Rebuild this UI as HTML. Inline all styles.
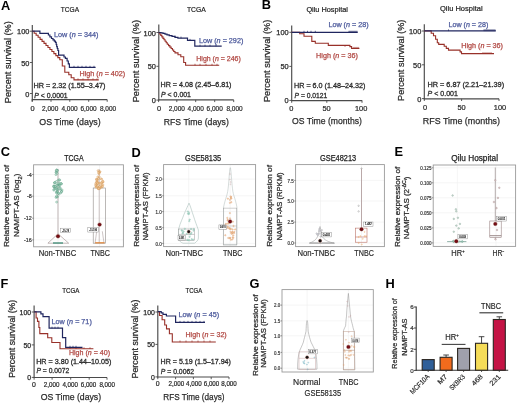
<!DOCTYPE html><html><head><meta charset="utf-8"><style>html,body{margin:0;padding:0;background:#fff;}svg{display:block;will-change:transform;}text{font-family:"Liberation Sans",sans-serif;}</style></head><body>
<svg width="520" height="403" viewBox="0 0 520 403">
<rect width="520" height="403" fill="#fff"/>
<text x="1.1" y="9.5" font-size="12.8" font-weight="bold" fill="#000">A</text>
<text x="261.8" y="9.4" font-size="12.8" font-weight="bold" fill="#000">B</text>
<text x="0.8" y="156.2" font-size="12.8" font-weight="bold" fill="#000">C</text>
<text x="131.5" y="156.7" font-size="12.8" font-weight="bold" fill="#000">D</text>
<text x="394.4" y="156.1" font-size="12.8" font-weight="bold" fill="#000">E</text>
<text x="0.5" y="287.7" font-size="12.8" font-weight="bold" fill="#000">F</text>
<text x="249.5" y="287.6" font-size="12.8" font-weight="bold" fill="#000">G</text>
<text x="385.5" y="287.7" font-size="12.8" font-weight="bold" fill="#000">H</text>
<line x1="32.30" y1="25.00" x2="32.30" y2="101.60" stroke="#4a4a4a" stroke-width="1.15"/>
<line x1="31.80" y1="99.60" x2="107.20" y2="99.60" stroke="#4a4a4a" stroke-width="1.15"/>
<line x1="29.90" y1="31.20" x2="32.30" y2="31.20" stroke="#4a4a4a" stroke-width="0.9"/>
<text x="29.40" y="34.25" font-size="7.4" text-anchor="end" fill="#2a2a2a" stroke="#2a2a2a" stroke-width="0.25">100</text>
<line x1="29.90" y1="62.50" x2="32.30" y2="62.50" stroke="#4a4a4a" stroke-width="0.9"/>
<text x="29.40" y="65.55" font-size="7.4" text-anchor="end" fill="#2a2a2a" stroke="#2a2a2a" stroke-width="0.25">50</text>
<line x1="29.90" y1="93.50" x2="32.30" y2="93.50" stroke="#4a4a4a" stroke-width="0.9"/>
<text x="29.40" y="96.55" font-size="7.4" text-anchor="end" fill="#2a2a2a" stroke="#2a2a2a" stroke-width="0.25">0</text>
<line x1="32.20" y1="99.60" x2="32.20" y2="101.80" stroke="#4a4a4a" stroke-width="0.9"/>
<line x1="51.00" y1="99.60" x2="51.00" y2="101.80" stroke="#4a4a4a" stroke-width="0.9"/>
<line x1="69.80" y1="99.60" x2="69.80" y2="101.80" stroke="#4a4a4a" stroke-width="0.9"/>
<line x1="88.70" y1="99.60" x2="88.70" y2="101.80" stroke="#4a4a4a" stroke-width="0.9"/>
<line x1="107.20" y1="99.60" x2="107.20" y2="101.80" stroke="#4a4a4a" stroke-width="0.9"/>
<text x="32.60" y="111.30" font-size="7.4" text-anchor="middle" fill="#2a2a2a" stroke="#2a2a2a" stroke-width="0.22">0</text>
<text x="50.20" y="111.30" font-size="7.4" text-anchor="middle" fill="#2a2a2a" textLength="16.20" lengthAdjust="spacingAndGlyphs" stroke="#2a2a2a" stroke-width="0.22">2,000</text>
<text x="69.50" y="111.30" font-size="7.4" text-anchor="middle" fill="#2a2a2a" textLength="16.20" lengthAdjust="spacingAndGlyphs" stroke="#2a2a2a" stroke-width="0.22">4,000</text>
<text x="88.50" y="111.30" font-size="7.4" text-anchor="middle" fill="#2a2a2a" textLength="16.20" lengthAdjust="spacingAndGlyphs" stroke="#2a2a2a" stroke-width="0.22">6,000</text>
<text x="108.00" y="111.30" font-size="7.4" text-anchor="middle" fill="#2a2a2a" textLength="16.20" lengthAdjust="spacingAndGlyphs" stroke="#2a2a2a" stroke-width="0.22">8,000</text>
<text x="69.90" y="11.90" font-size="7.4" text-anchor="middle" fill="#222" textLength="18.20" lengthAdjust="spacingAndGlyphs" stroke="#222" stroke-width="0.2">TCGA</text>
<text x="70.00" y="125.17" font-size="9.8" text-anchor="middle" fill="#2a2a2a" textLength="61.50" lengthAdjust="spacingAndGlyphs" stroke="#2a2a2a" stroke-width="0.25">OS Time (days)</text>
<text x="10.88" y="62.20" font-size="9.0" text-anchor="middle" fill="#2a2a2a" textLength="82.00" lengthAdjust="spacingAndGlyphs" stroke="#2a2a2a" stroke-width="0.25" transform="rotate(-90 10.88 62.20)">Percent survival (%)</text>
<polyline points="32.20,31.20 34.17,31.20 34.17,33.24 36.14,33.24 36.14,35.27 38.11,35.27 38.11,37.31 40.09,37.31 40.09,39.34 42.06,39.34 42.06,41.38 44.03,41.38 44.03,43.41 46.00,43.41 46.00,45.45 47.97,45.45 47.97,47.49 49.94,47.49 49.94,49.52 51.91,49.52 51.91,51.56 53.89,51.56 53.89,53.59 55.86,53.59 55.86,55.63 57.83,55.63 57.83,57.66 59.80,57.66 59.80,59.70 62.30,59.70 62.30,66.00 64.80,66.00 64.80,72.30 68.80,72.30 68.80,74.80 71.20,74.80 71.20,77.70 74.00,77.70 74.00,79.90 98.80,79.90" stroke="#983029" stroke-width="1.1" fill="none"/>
<line x1="78.00" y1="78.40" x2="78.00" y2="80.10" stroke="#983029" stroke-width="0.7"/>
<line x1="83.00" y1="78.40" x2="83.00" y2="80.10" stroke="#983029" stroke-width="0.7"/>
<line x1="88.00" y1="78.40" x2="88.00" y2="80.10" stroke="#983029" stroke-width="0.7"/>
<line x1="93.00" y1="78.40" x2="93.00" y2="80.10" stroke="#983029" stroke-width="0.7"/>
<line x1="97.00" y1="78.40" x2="97.00" y2="80.10" stroke="#983029" stroke-width="0.7"/>
<polyline points="32.20,31.20 39.90,31.20 39.90,33.40 48.40,33.40 48.40,35.00 49.90,35.00 49.90,36.80 51.50,36.80 51.50,38.50 53.00,38.50 53.00,39.90 54.30,39.90 54.30,41.20 55.40,41.20 55.40,42.40 56.20,42.40 56.20,44.50 56.70,44.50 56.70,46.70 57.30,46.70 57.30,48.50 57.90,48.50 57.90,50.50 58.60,50.50 58.60,55.20 64.00,55.20 64.00,57.00 65.40,57.00 65.40,58.30 67.10,58.30 67.10,61.00 68.30,61.00 68.30,63.80 69.40,63.80 69.40,67.30 95.60,67.30" stroke="#20265f" stroke-width="1.2" fill="none"/>
<line x1="74.00" y1="65.80" x2="74.00" y2="67.50" stroke="#20265f" stroke-width="0.7"/>
<line x1="78.00" y1="65.80" x2="78.00" y2="67.50" stroke="#20265f" stroke-width="0.7"/>
<line x1="82.00" y1="65.80" x2="82.00" y2="67.50" stroke="#20265f" stroke-width="0.7"/>
<line x1="86.00" y1="65.80" x2="86.00" y2="67.50" stroke="#20265f" stroke-width="0.7"/>
<line x1="90.00" y1="65.80" x2="90.00" y2="67.50" stroke="#20265f" stroke-width="0.7"/>
<line x1="94.00" y1="65.80" x2="94.00" y2="67.50" stroke="#20265f" stroke-width="0.7"/>
<text x="54.00" y="37.22" font-size="7.2" fill="#4d5a9c" stroke="#4d5a9c" stroke-width="0.25" textLength="44.5" lengthAdjust="spacingAndGlyphs">Low (<tspan font-style="italic">n</tspan> = 344)</text>
<text x="79.50" y="76.32" font-size="7.2" fill="#b24a45" stroke="#b24a45" stroke-width="0.25" textLength="45.7" lengthAdjust="spacingAndGlyphs">High (<tspan font-style="italic">n</tspan> = 402)</text>
<text x="33.40" y="88.42" font-size="7.2" fill="#2a2a2a" stroke="#2a2a2a" stroke-width="0.28" textLength="72" lengthAdjust="spacingAndGlyphs">HR = 2.32 (1.55–3.47)</text>
<text x="34.20" y="97.82" font-size="7.2" fill="#2a2a2a" stroke="#2a2a2a" stroke-width="0.28" textLength="33.5" lengthAdjust="spacingAndGlyphs"><tspan font-style="italic">P</tspan> &lt; 0.0001</text>
<line x1="158.80" y1="24.50" x2="158.80" y2="100.40" stroke="#4a4a4a" stroke-width="1.15"/>
<line x1="158.30" y1="99.90" x2="233.70" y2="99.90" stroke="#4a4a4a" stroke-width="1.15"/>
<line x1="156.40" y1="32.50" x2="158.80" y2="32.50" stroke="#4a4a4a" stroke-width="0.9"/>
<text x="155.90" y="35.55" font-size="7.4" text-anchor="end" fill="#2a2a2a" stroke="#2a2a2a" stroke-width="0.25">100</text>
<line x1="156.40" y1="66.30" x2="158.80" y2="66.30" stroke="#4a4a4a" stroke-width="0.9"/>
<text x="155.90" y="69.35" font-size="7.4" text-anchor="end" fill="#2a2a2a" stroke="#2a2a2a" stroke-width="0.25">50</text>
<line x1="156.40" y1="100.10" x2="158.80" y2="100.10" stroke="#4a4a4a" stroke-width="0.9"/>
<text x="155.90" y="103.15" font-size="7.4" text-anchor="end" fill="#2a2a2a" stroke="#2a2a2a" stroke-width="0.25">0</text>
<line x1="158.60" y1="99.90" x2="158.60" y2="102.10" stroke="#4a4a4a" stroke-width="0.9"/>
<line x1="176.80" y1="99.90" x2="176.80" y2="102.10" stroke="#4a4a4a" stroke-width="0.9"/>
<line x1="195.70" y1="99.90" x2="195.70" y2="102.10" stroke="#4a4a4a" stroke-width="0.9"/>
<line x1="214.70" y1="99.90" x2="214.70" y2="102.10" stroke="#4a4a4a" stroke-width="0.9"/>
<line x1="233.70" y1="99.90" x2="233.70" y2="102.10" stroke="#4a4a4a" stroke-width="0.9"/>
<text x="159.00" y="111.30" font-size="7.4" text-anchor="middle" fill="#2a2a2a" stroke="#2a2a2a" stroke-width="0.22">0</text>
<text x="176.80" y="111.30" font-size="7.4" text-anchor="middle" fill="#2a2a2a" textLength="16.20" lengthAdjust="spacingAndGlyphs" stroke="#2a2a2a" stroke-width="0.22">2,000</text>
<text x="195.70" y="111.30" font-size="7.4" text-anchor="middle" fill="#2a2a2a" textLength="16.20" lengthAdjust="spacingAndGlyphs" stroke="#2a2a2a" stroke-width="0.22">4,000</text>
<text x="214.70" y="111.30" font-size="7.4" text-anchor="middle" fill="#2a2a2a" textLength="16.20" lengthAdjust="spacingAndGlyphs" stroke="#2a2a2a" stroke-width="0.22">6,000</text>
<text x="234.50" y="111.30" font-size="7.4" text-anchor="middle" fill="#2a2a2a" textLength="16.20" lengthAdjust="spacingAndGlyphs" stroke="#2a2a2a" stroke-width="0.22">8,000</text>
<text x="196.30" y="11.90" font-size="7.4" text-anchor="middle" fill="#222" textLength="18.80" lengthAdjust="spacingAndGlyphs" stroke="#222" stroke-width="0.2">TCGA</text>
<text x="196.30" y="124.97" font-size="9.8" text-anchor="middle" fill="#2a2a2a" textLength="65.00" lengthAdjust="spacingAndGlyphs" stroke="#2a2a2a" stroke-width="0.25">RFS Time (days)</text>
<text x="138.68" y="61.10" font-size="9.0" text-anchor="middle" fill="#2a2a2a" textLength="82.50" lengthAdjust="spacingAndGlyphs" stroke="#2a2a2a" stroke-width="0.25" transform="rotate(-90 138.68 61.10)">Percent survival (%)</text>
<polyline points="158.60,32.50 159.69,32.50 159.69,33.96 160.78,33.96 160.78,35.42 161.86,35.42 161.86,36.89 162.95,36.89 162.95,38.35 164.04,38.35 164.04,39.81 165.12,39.81 165.12,41.28 166.21,41.28 166.21,42.74 167.30,42.74 167.30,44.20 168.58,44.20 168.58,45.65 169.87,45.65 169.87,47.10 171.15,47.10 171.15,48.55 172.43,48.55 172.43,50.00 173.72,50.00 173.72,51.45 175.00,51.45 175.00,52.90 178.00,52.90 178.00,54.80 180.80,54.80 180.80,56.70 183.70,56.70 183.70,62.50 185.60,62.50 185.60,65.30 219.20,65.30" stroke="#983029" stroke-width="1.1" fill="none"/>
<line x1="195.00" y1="63.80" x2="195.00" y2="65.50" stroke="#983029" stroke-width="0.7"/>
<line x1="200.00" y1="63.80" x2="200.00" y2="65.50" stroke="#983029" stroke-width="0.7"/>
<line x1="206.00" y1="63.80" x2="206.00" y2="65.50" stroke="#983029" stroke-width="0.7"/>
<line x1="212.00" y1="63.80" x2="212.00" y2="65.50" stroke="#983029" stroke-width="0.7"/>
<line x1="217.00" y1="63.80" x2="217.00" y2="65.50" stroke="#983029" stroke-width="0.7"/>
<polyline points="158.60,32.50 161.00,32.50 161.00,32.80 163.00,32.80 163.00,33.30 165.00,33.30 165.00,34.20 167.00,34.20 167.00,34.80 169.20,34.80 169.20,35.60 172.00,35.60 172.00,36.40 175.00,36.40 175.00,37.30 177.90,37.30 177.90,38.10 187.50,38.10 187.50,40.40 194.80,40.40 194.80,46.20 221.70,46.20" stroke="#20265f" stroke-width="1.2" fill="none"/>
<line x1="200.00" y1="44.70" x2="200.00" y2="46.40" stroke="#20265f" stroke-width="0.7"/>
<line x1="205.00" y1="44.70" x2="205.00" y2="46.40" stroke="#20265f" stroke-width="0.7"/>
<line x1="210.00" y1="44.70" x2="210.00" y2="46.40" stroke="#20265f" stroke-width="0.7"/>
<line x1="216.00" y1="44.70" x2="216.00" y2="46.40" stroke="#20265f" stroke-width="0.7"/>
<line x1="175.00" y1="35.80" x2="175.00" y2="37.50" stroke="#20265f" stroke-width="0.7"/>
<line x1="181.00" y1="36.60" x2="181.00" y2="38.30" stroke="#20265f" stroke-width="0.7"/>
<line x1="190.00" y1="38.90" x2="190.00" y2="40.60" stroke="#20265f" stroke-width="0.7"/>
<text x="199.00" y="43.12" font-size="7.2" fill="#4d5a9c" stroke="#4d5a9c" stroke-width="0.25" textLength="44.3" lengthAdjust="spacingAndGlyphs">Low (<tspan font-style="italic">n</tspan> = 292)</text>
<text x="196.30" y="61.12" font-size="7.2" fill="#b24a45" stroke="#b24a45" stroke-width="0.25" textLength="44.5" lengthAdjust="spacingAndGlyphs">High (<tspan font-style="italic">n</tspan> = 246)</text>
<text x="160.50" y="87.32" font-size="7.2" fill="#2a2a2a" stroke="#2a2a2a" stroke-width="0.28" textLength="71" lengthAdjust="spacingAndGlyphs">HR = 4.08 (2.45–6.81)</text>
<text x="161.00" y="96.72" font-size="7.2" fill="#2a2a2a" stroke="#2a2a2a" stroke-width="0.28" textLength="30" lengthAdjust="spacingAndGlyphs"><tspan font-style="italic">P</tspan> &lt; 0.001</text>
<line x1="291.70" y1="25.50" x2="291.70" y2="101.10" stroke="#4a4a4a" stroke-width="1.15"/>
<line x1="291.20" y1="100.60" x2="362.20" y2="100.60" stroke="#4a4a4a" stroke-width="1.15"/>
<line x1="289.30" y1="32.30" x2="291.70" y2="32.30" stroke="#4a4a4a" stroke-width="0.9"/>
<text x="288.70" y="35.35" font-size="7.4" text-anchor="end" fill="#2a2a2a" stroke="#2a2a2a" stroke-width="0.25">100</text>
<line x1="289.30" y1="66.40" x2="291.70" y2="66.40" stroke="#4a4a4a" stroke-width="0.9"/>
<text x="288.70" y="69.45" font-size="7.4" text-anchor="end" fill="#2a2a2a" stroke="#2a2a2a" stroke-width="0.25">50</text>
<line x1="289.30" y1="100.40" x2="291.70" y2="100.40" stroke="#4a4a4a" stroke-width="0.9"/>
<text x="288.70" y="103.45" font-size="7.4" text-anchor="end" fill="#2a2a2a" stroke="#2a2a2a" stroke-width="0.25">0</text>
<line x1="291.70" y1="100.60" x2="291.70" y2="102.80" stroke="#4a4a4a" stroke-width="0.9"/>
<line x1="326.80" y1="100.60" x2="326.80" y2="102.80" stroke="#4a4a4a" stroke-width="0.9"/>
<line x1="362.00" y1="100.60" x2="362.00" y2="102.80" stroke="#4a4a4a" stroke-width="0.9"/>
<text x="291.30" y="111.20" font-size="7.4" text-anchor="middle" fill="#2a2a2a" stroke="#2a2a2a" stroke-width="0.22">0</text>
<text x="326.50" y="111.20" font-size="7.4" text-anchor="middle" fill="#2a2a2a" stroke="#2a2a2a" stroke-width="0.22">50</text>
<text x="361.10" y="111.20" font-size="7.4" text-anchor="middle" fill="#2a2a2a" stroke="#2a2a2a" stroke-width="0.22">100</text>
<text x="327.20" y="12.00" font-size="7.4" text-anchor="middle" fill="#222" textLength="41.60" lengthAdjust="spacingAndGlyphs" stroke="#222" stroke-width="0.2">Qilu Hospital</text>
<text x="327.00" y="124.37" font-size="9.8" text-anchor="middle" fill="#2a2a2a" textLength="70.00" lengthAdjust="spacingAndGlyphs" stroke="#2a2a2a" stroke-width="0.25">OS Time (months)</text>
<text x="269.68" y="60.90" font-size="9.0" text-anchor="middle" fill="#2a2a2a" textLength="82.30" lengthAdjust="spacingAndGlyphs" stroke="#2a2a2a" stroke-width="0.25" transform="rotate(-90 269.68 60.90)">Percent survival (%)</text>
<polyline points="291.70,32.30 299.70,32.30 299.70,33.70 304.00,33.70 304.00,36.20 311.80,36.20 311.80,41.40 315.30,41.40 315.30,43.20 328.30,43.20 328.30,45.40 349.90,45.40 349.90,46.60 351.60,46.60 351.60,48.40 359.40,48.40" stroke="#983029" stroke-width="1.1" fill="none"/>
<line x1="345.00" y1="45.10" x2="345.00" y2="46.80" stroke="#983029" stroke-width="0.7"/>
<line x1="354.00" y1="46.90" x2="354.00" y2="48.60" stroke="#983029" stroke-width="0.7"/>
<line x1="356.00" y1="46.90" x2="356.00" y2="48.60" stroke="#983029" stroke-width="0.7"/>
<line x1="358.00" y1="46.90" x2="358.00" y2="48.60" stroke="#983029" stroke-width="0.7"/>
<polyline points="291.70,32.30 357.70,32.30" stroke="#20265f" stroke-width="1.2" fill="none"/>
<line x1="304.00" y1="30.80" x2="304.00" y2="32.50" stroke="#20265f" stroke-width="0.7"/>
<line x1="307.50" y1="30.80" x2="307.50" y2="32.50" stroke="#20265f" stroke-width="0.7"/>
<line x1="311.00" y1="30.80" x2="311.00" y2="32.50" stroke="#20265f" stroke-width="0.7"/>
<line x1="315.30" y1="30.80" x2="315.30" y2="32.50" stroke="#20265f" stroke-width="0.7"/>
<line x1="349.00" y1="30.80" x2="349.00" y2="32.50" stroke="#20265f" stroke-width="0.7"/>
<line x1="350.00" y1="30.80" x2="350.00" y2="32.50" stroke="#20265f" stroke-width="0.7"/>
<line x1="351.00" y1="30.80" x2="351.00" y2="32.50" stroke="#20265f" stroke-width="0.7"/>
<line x1="352.00" y1="30.80" x2="352.00" y2="32.50" stroke="#20265f" stroke-width="0.7"/>
<line x1="353.00" y1="30.80" x2="353.00" y2="32.50" stroke="#20265f" stroke-width="0.7"/>
<line x1="354.00" y1="30.80" x2="354.00" y2="32.50" stroke="#20265f" stroke-width="0.7"/>
<line x1="355.00" y1="30.80" x2="355.00" y2="32.50" stroke="#20265f" stroke-width="0.7"/>
<line x1="356.00" y1="30.80" x2="356.00" y2="32.50" stroke="#20265f" stroke-width="0.7"/>
<line x1="357.00" y1="30.80" x2="357.00" y2="32.50" stroke="#20265f" stroke-width="0.7"/>
<text x="328.40" y="27.12" font-size="7.2" fill="#4d5a9c" stroke="#4d5a9c" stroke-width="0.25" textLength="40.3" lengthAdjust="spacingAndGlyphs">Low (<tspan font-style="italic">n</tspan> = 28)</text>
<text x="316.10" y="58.32" font-size="7.2" fill="#b24a45" stroke="#b24a45" stroke-width="0.25" textLength="41.9" lengthAdjust="spacingAndGlyphs">High (<tspan font-style="italic">n</tspan> = 36)</text>
<text x="294.00" y="88.42" font-size="7.2" fill="#2a2a2a" stroke="#2a2a2a" stroke-width="0.28" textLength="71.4" lengthAdjust="spacingAndGlyphs">HR = 6.0 (1.48–24.32)</text>
<text x="294.50" y="97.52" font-size="7.2" fill="#2a2a2a" stroke="#2a2a2a" stroke-width="0.28" textLength="32.9" lengthAdjust="spacingAndGlyphs"><tspan font-style="italic">P</tspan> = 0.0121</text>
<line x1="424.30" y1="24.20" x2="424.30" y2="99.30" stroke="#4a4a4a" stroke-width="1.15"/>
<line x1="423.80" y1="98.80" x2="499.00" y2="98.80" stroke="#4a4a4a" stroke-width="1.15"/>
<line x1="421.90" y1="31.00" x2="424.30" y2="31.00" stroke="#4a4a4a" stroke-width="0.9"/>
<text x="421.30" y="34.05" font-size="7.4" text-anchor="end" fill="#2a2a2a" stroke="#2a2a2a" stroke-width="0.25">100</text>
<line x1="421.90" y1="64.80" x2="424.30" y2="64.80" stroke="#4a4a4a" stroke-width="0.9"/>
<text x="421.30" y="67.85" font-size="7.4" text-anchor="end" fill="#2a2a2a" stroke="#2a2a2a" stroke-width="0.25">50</text>
<line x1="421.90" y1="98.60" x2="424.30" y2="98.60" stroke="#4a4a4a" stroke-width="0.9"/>
<text x="421.30" y="101.65" font-size="7.4" text-anchor="end" fill="#2a2a2a" stroke="#2a2a2a" stroke-width="0.25">0</text>
<line x1="424.30" y1="98.80" x2="424.30" y2="101.00" stroke="#4a4a4a" stroke-width="0.9"/>
<line x1="461.60" y1="98.80" x2="461.60" y2="101.00" stroke="#4a4a4a" stroke-width="0.9"/>
<line x1="499.00" y1="98.80" x2="499.00" y2="101.00" stroke="#4a4a4a" stroke-width="0.9"/>
<text x="425.00" y="110.30" font-size="7.4" text-anchor="middle" fill="#2a2a2a" stroke="#2a2a2a" stroke-width="0.22">0</text>
<text x="461.60" y="110.30" font-size="7.4" text-anchor="middle" fill="#2a2a2a" stroke="#2a2a2a" stroke-width="0.22">50</text>
<text x="500.00" y="110.30" font-size="7.4" text-anchor="middle" fill="#2a2a2a" stroke="#2a2a2a" stroke-width="0.22">100</text>
<text x="461.30" y="11.10" font-size="7.4" text-anchor="middle" fill="#222" textLength="42.70" lengthAdjust="spacingAndGlyphs" stroke="#222" stroke-width="0.2">Qilu Hospital</text>
<text x="461.40" y="123.57" font-size="9.8" text-anchor="middle" fill="#2a2a2a" textLength="77.30" lengthAdjust="spacingAndGlyphs" stroke="#2a2a2a" stroke-width="0.25">RFS Time (months)</text>
<text x="403.58" y="60.30" font-size="9.0" text-anchor="middle" fill="#2a2a2a" textLength="81.20" lengthAdjust="spacingAndGlyphs" stroke="#2a2a2a" stroke-width="0.25" transform="rotate(-90 403.58 60.30)">Percent survival (%)</text>
<polyline points="424.30,30.90 431.20,30.90 431.20,33.20 433.50,33.20 433.50,35.80 435.60,35.80 435.60,39.20 437.30,39.20 437.30,42.70 438.70,42.70 438.70,44.40 444.20,44.40 444.20,46.20 446.30,46.20 446.30,48.40 448.50,48.40 448.50,50.10 460.10,50.10 460.10,51.90 461.50,51.90 461.50,53.60 494.00,53.60" stroke="#983029" stroke-width="1.1" fill="none"/>
<line x1="483.00" y1="52.10" x2="483.00" y2="53.80" stroke="#983029" stroke-width="0.7"/>
<line x1="485.00" y1="52.10" x2="485.00" y2="53.80" stroke="#983029" stroke-width="0.7"/>
<line x1="487.00" y1="52.10" x2="487.00" y2="53.80" stroke="#983029" stroke-width="0.7"/>
<line x1="489.00" y1="52.10" x2="489.00" y2="53.80" stroke="#983029" stroke-width="0.7"/>
<line x1="491.00" y1="52.10" x2="491.00" y2="53.80" stroke="#983029" stroke-width="0.7"/>
<polyline points="424.30,30.90 495.80,30.90" stroke="#20265f" stroke-width="1.2" fill="none"/>
<line x1="448.50" y1="29.40" x2="448.50" y2="31.10" stroke="#20265f" stroke-width="0.7"/>
<line x1="484.00" y1="29.40" x2="484.00" y2="31.10" stroke="#20265f" stroke-width="0.7"/>
<line x1="485.00" y1="29.40" x2="485.00" y2="31.10" stroke="#20265f" stroke-width="0.7"/>
<line x1="486.00" y1="29.40" x2="486.00" y2="31.10" stroke="#20265f" stroke-width="0.7"/>
<line x1="487.00" y1="29.40" x2="487.00" y2="31.10" stroke="#20265f" stroke-width="0.7"/>
<line x1="488.00" y1="29.40" x2="488.00" y2="31.10" stroke="#20265f" stroke-width="0.7"/>
<line x1="489.00" y1="29.40" x2="489.00" y2="31.10" stroke="#20265f" stroke-width="0.7"/>
<line x1="490.00" y1="29.40" x2="490.00" y2="31.10" stroke="#20265f" stroke-width="0.7"/>
<line x1="491.00" y1="29.40" x2="491.00" y2="31.10" stroke="#20265f" stroke-width="0.7"/>
<line x1="492.00" y1="29.40" x2="492.00" y2="31.10" stroke="#20265f" stroke-width="0.7"/>
<line x1="493.00" y1="29.40" x2="493.00" y2="31.10" stroke="#20265f" stroke-width="0.7"/>
<line x1="494.00" y1="29.40" x2="494.00" y2="31.10" stroke="#20265f" stroke-width="0.7"/>
<line x1="495.00" y1="29.40" x2="495.00" y2="31.10" stroke="#20265f" stroke-width="0.7"/>
<text x="448.50" y="26.62" font-size="7.2" fill="#4d5a9c" stroke="#4d5a9c" stroke-width="0.25" textLength="39.8" lengthAdjust="spacingAndGlyphs">Low (<tspan font-style="italic">n</tspan> = 28)</text>
<text x="461.20" y="47.82" font-size="7.2" fill="#b24a45" stroke="#b24a45" stroke-width="0.25" textLength="41.8" lengthAdjust="spacingAndGlyphs">High (<tspan font-style="italic">n</tspan> = 36)</text>
<text x="427.40" y="86.62" font-size="7.2" fill="#2a2a2a" stroke="#2a2a2a" stroke-width="0.28" textLength="76.7" lengthAdjust="spacingAndGlyphs">HR = 6.87 (2.21–21.39)</text>
<text x="427.60" y="95.62" font-size="7.2" fill="#2a2a2a" stroke="#2a2a2a" stroke-width="0.28" textLength="30.3" lengthAdjust="spacingAndGlyphs"><tspan font-style="italic">P</tspan> &lt; 0.001</text>
<line x1="34.10" y1="305.50" x2="34.10" y2="378.00" stroke="#4a4a4a" stroke-width="1.15"/>
<line x1="33.60" y1="377.50" x2="107.00" y2="377.50" stroke="#4a4a4a" stroke-width="1.15"/>
<line x1="31.70" y1="312.00" x2="34.10" y2="312.00" stroke="#4a4a4a" stroke-width="0.9"/>
<text x="31.10" y="314.87" font-size="6.9" text-anchor="end" fill="#2a2a2a" stroke="#2a2a2a" stroke-width="0.25">100</text>
<line x1="31.70" y1="344.90" x2="34.10" y2="344.90" stroke="#4a4a4a" stroke-width="0.9"/>
<text x="31.10" y="347.77" font-size="6.9" text-anchor="end" fill="#2a2a2a" stroke="#2a2a2a" stroke-width="0.25">50</text>
<line x1="31.70" y1="377.40" x2="34.10" y2="377.40" stroke="#4a4a4a" stroke-width="0.9"/>
<text x="31.10" y="380.27" font-size="6.9" text-anchor="end" fill="#2a2a2a" stroke="#2a2a2a" stroke-width="0.25">0</text>
<line x1="34.10" y1="377.50" x2="34.10" y2="379.70" stroke="#4a4a4a" stroke-width="0.9"/>
<line x1="52.10" y1="377.50" x2="52.10" y2="379.70" stroke="#4a4a4a" stroke-width="0.9"/>
<line x1="70.70" y1="377.50" x2="70.70" y2="379.70" stroke="#4a4a4a" stroke-width="0.9"/>
<line x1="89.20" y1="377.50" x2="89.20" y2="379.70" stroke="#4a4a4a" stroke-width="0.9"/>
<line x1="107.00" y1="377.50" x2="107.00" y2="379.70" stroke="#4a4a4a" stroke-width="0.9"/>
<text x="33.80" y="386.92" font-size="6.9" text-anchor="middle" fill="#2a2a2a" stroke="#2a2a2a" stroke-width="0.22">0</text>
<text x="51.60" y="386.92" font-size="6.9" text-anchor="middle" fill="#2a2a2a" textLength="15.60" lengthAdjust="spacingAndGlyphs" stroke="#2a2a2a" stroke-width="0.22">2,000</text>
<text x="70.20" y="386.92" font-size="6.9" text-anchor="middle" fill="#2a2a2a" textLength="15.60" lengthAdjust="spacingAndGlyphs" stroke="#2a2a2a" stroke-width="0.22">4,000</text>
<text x="88.50" y="386.92" font-size="6.9" text-anchor="middle" fill="#2a2a2a" textLength="15.60" lengthAdjust="spacingAndGlyphs" stroke="#2a2a2a" stroke-width="0.22">6,000</text>
<text x="107.20" y="386.92" font-size="6.9" text-anchor="middle" fill="#2a2a2a" textLength="15.60" lengthAdjust="spacingAndGlyphs" stroke="#2a2a2a" stroke-width="0.22">8,000</text>
<text x="70.90" y="293.00" font-size="7.4" text-anchor="middle" fill="#222" textLength="17.20" lengthAdjust="spacingAndGlyphs" stroke="#222" stroke-width="0.2">TCGA</text>
<text x="70.90" y="400.37" font-size="9.8" text-anchor="middle" fill="#2a2a2a" textLength="60.50" lengthAdjust="spacingAndGlyphs" stroke="#2a2a2a" stroke-width="0.25">OS Time (days)</text>
<text x="15.38" y="338.80" font-size="9.0" text-anchor="middle" fill="#2a2a2a" textLength="78.00" lengthAdjust="spacingAndGlyphs" stroke="#2a2a2a" stroke-width="0.25" transform="rotate(-90 15.38 338.80)">Percent survival (%)</text>
<polyline points="34.10,311.80 36.10,311.80 36.10,318.00 37.50,318.00 37.50,321.40 38.90,321.40 38.90,327.50 39.80,327.50 39.80,333.60 47.70,333.60 47.70,337.70 51.80,337.70 51.80,342.50 60.00,342.50 60.00,348.80 93.40,348.80" stroke="#983029" stroke-width="1.1" fill="none"/>
<line x1="70.00" y1="347.30" x2="70.00" y2="349.00" stroke="#983029" stroke-width="0.7"/>
<line x1="76.00" y1="347.30" x2="76.00" y2="349.00" stroke="#983029" stroke-width="0.7"/>
<line x1="84.00" y1="347.30" x2="84.00" y2="349.00" stroke="#983029" stroke-width="0.7"/>
<line x1="90.00" y1="347.30" x2="90.00" y2="349.00" stroke="#983029" stroke-width="0.7"/>
<polyline points="34.10,311.80 40.90,311.80 40.90,313.90 43.00,313.90 43.00,316.60 49.10,316.60 49.10,328.20 62.50,328.20 62.50,337.70 65.70,337.70 65.70,347.30 82.50,347.30" stroke="#20265f" stroke-width="1.2" fill="none"/>
<line x1="52.00" y1="326.70" x2="52.00" y2="328.40" stroke="#20265f" stroke-width="0.7"/>
<line x1="55.00" y1="326.70" x2="55.00" y2="328.40" stroke="#20265f" stroke-width="0.7"/>
<line x1="58.00" y1="326.70" x2="58.00" y2="328.40" stroke="#20265f" stroke-width="0.7"/>
<line x1="70.00" y1="345.80" x2="70.00" y2="347.50" stroke="#20265f" stroke-width="0.7"/>
<line x1="73.00" y1="345.80" x2="73.00" y2="347.50" stroke="#20265f" stroke-width="0.7"/>
<line x1="76.00" y1="345.80" x2="76.00" y2="347.50" stroke="#20265f" stroke-width="0.7"/>
<text x="51.50" y="324.12" font-size="7.2" fill="#4d5a9c" stroke="#4d5a9c" stroke-width="0.25" textLength="40.3" lengthAdjust="spacingAndGlyphs">Low (<tspan font-style="italic">n</tspan> = 71)</text>
<text x="68.90" y="355.12" font-size="7.2" fill="#b24a45" stroke="#b24a45" stroke-width="0.25" textLength="41.2" lengthAdjust="spacingAndGlyphs">High (<tspan font-style="italic">n</tspan> = 40)</text>
<text x="36.20" y="363.92" font-size="7.2" fill="#2a2a2a" stroke="#2a2a2a" stroke-width="0.28" textLength="75.2" lengthAdjust="spacingAndGlyphs">HR = 3.80 (1.44–10.05)</text>
<text x="36.50" y="373.32" font-size="7.2" fill="#2a2a2a" stroke="#2a2a2a" stroke-width="0.28" textLength="32.7" lengthAdjust="spacingAndGlyphs"><tspan font-style="italic">P</tspan> = 0.0072</text>
<line x1="157.80" y1="305.60" x2="157.80" y2="377.50" stroke="#4a4a4a" stroke-width="1.15"/>
<line x1="157.30" y1="377.00" x2="229.00" y2="377.00" stroke="#4a4a4a" stroke-width="1.15"/>
<line x1="155.40" y1="312.00" x2="157.80" y2="312.00" stroke="#4a4a4a" stroke-width="0.9"/>
<text x="154.80" y="314.87" font-size="6.9" text-anchor="end" fill="#2a2a2a" stroke="#2a2a2a" stroke-width="0.25">100</text>
<line x1="155.40" y1="344.40" x2="157.80" y2="344.40" stroke="#4a4a4a" stroke-width="0.9"/>
<text x="154.80" y="347.27" font-size="6.9" text-anchor="end" fill="#2a2a2a" stroke="#2a2a2a" stroke-width="0.25">50</text>
<line x1="155.40" y1="376.90" x2="157.80" y2="376.90" stroke="#4a4a4a" stroke-width="0.9"/>
<text x="154.80" y="379.77" font-size="6.9" text-anchor="end" fill="#2a2a2a" stroke="#2a2a2a" stroke-width="0.25">0</text>
<line x1="157.80" y1="377.00" x2="157.80" y2="379.20" stroke="#4a4a4a" stroke-width="0.9"/>
<line x1="175.60" y1="377.00" x2="175.60" y2="379.20" stroke="#4a4a4a" stroke-width="0.9"/>
<line x1="193.40" y1="377.00" x2="193.40" y2="379.20" stroke="#4a4a4a" stroke-width="0.9"/>
<line x1="211.20" y1="377.00" x2="211.20" y2="379.20" stroke="#4a4a4a" stroke-width="0.9"/>
<line x1="229.00" y1="377.00" x2="229.00" y2="379.20" stroke="#4a4a4a" stroke-width="0.9"/>
<text x="157.70" y="385.92" font-size="6.9" text-anchor="middle" fill="#2a2a2a" stroke="#2a2a2a" stroke-width="0.22">0</text>
<text x="176.40" y="385.92" font-size="6.9" text-anchor="middle" fill="#2a2a2a" textLength="15.60" lengthAdjust="spacingAndGlyphs" stroke="#2a2a2a" stroke-width="0.22">2,000</text>
<text x="193.90" y="385.92" font-size="6.9" text-anchor="middle" fill="#2a2a2a" textLength="15.60" lengthAdjust="spacingAndGlyphs" stroke="#2a2a2a" stroke-width="0.22">4,000</text>
<text x="211.50" y="385.92" font-size="6.9" text-anchor="middle" fill="#2a2a2a" textLength="15.60" lengthAdjust="spacingAndGlyphs" stroke="#2a2a2a" stroke-width="0.22">6,000</text>
<text x="229.00" y="385.92" font-size="6.9" text-anchor="middle" fill="#2a2a2a" textLength="15.60" lengthAdjust="spacingAndGlyphs" stroke="#2a2a2a" stroke-width="0.22">8,000</text>
<text x="193.90" y="292.80" font-size="7.4" text-anchor="middle" fill="#222" textLength="16.70" lengthAdjust="spacingAndGlyphs" stroke="#222" stroke-width="0.2">TCGA</text>
<text x="193.90" y="400.17" font-size="9.8" text-anchor="middle" fill="#2a2a2a" textLength="61.30" lengthAdjust="spacingAndGlyphs" stroke="#2a2a2a" stroke-width="0.25">RFS Time (days)</text>
<text x="138.38" y="339.00" font-size="9.0" text-anchor="middle" fill="#2a2a2a" textLength="78.80" lengthAdjust="spacingAndGlyphs" stroke="#2a2a2a" stroke-width="0.25" transform="rotate(-90 138.38 339.00)">Percent survival (%)</text>
<polyline points="157.80,311.70 159.50,311.70 159.50,315.50 162.10,315.50 162.10,319.80 164.70,319.80 164.70,325.00 166.50,325.00 166.50,328.90 169.40,328.90 169.40,333.70 172.30,333.70 172.30,342.00 215.80,342.00" stroke="#983029" stroke-width="1.1" fill="none"/>
<line x1="180.00" y1="340.50" x2="180.00" y2="342.20" stroke="#983029" stroke-width="0.7"/>
<line x1="186.00" y1="340.50" x2="186.00" y2="342.20" stroke="#983029" stroke-width="0.7"/>
<line x1="192.00" y1="340.50" x2="192.00" y2="342.20" stroke="#983029" stroke-width="0.7"/>
<line x1="198.00" y1="340.50" x2="198.00" y2="342.20" stroke="#983029" stroke-width="0.7"/>
<line x1="204.00" y1="340.50" x2="204.00" y2="342.20" stroke="#983029" stroke-width="0.7"/>
<line x1="210.00" y1="340.50" x2="210.00" y2="342.20" stroke="#983029" stroke-width="0.7"/>
<polyline points="157.80,311.70 161.20,311.70 161.20,312.90 163.00,312.90 163.00,314.30 166.40,314.30 166.40,316.00 175.60,316.00 175.60,322.40 205.00,322.40" stroke="#20265f" stroke-width="1.2" fill="none"/>
<line x1="180.00" y1="320.90" x2="180.00" y2="322.60" stroke="#20265f" stroke-width="0.7"/>
<line x1="184.00" y1="320.90" x2="184.00" y2="322.60" stroke="#20265f" stroke-width="0.7"/>
<line x1="188.00" y1="320.90" x2="188.00" y2="322.60" stroke="#20265f" stroke-width="0.7"/>
<line x1="192.00" y1="320.90" x2="192.00" y2="322.60" stroke="#20265f" stroke-width="0.7"/>
<line x1="196.00" y1="320.90" x2="196.00" y2="322.60" stroke="#20265f" stroke-width="0.7"/>
<line x1="200.00" y1="320.90" x2="200.00" y2="322.60" stroke="#20265f" stroke-width="0.7"/>
<line x1="204.00" y1="320.90" x2="204.00" y2="322.60" stroke="#20265f" stroke-width="0.7"/>
<text x="178.50" y="316.52" font-size="7.2" fill="#4d5a9c" stroke="#4d5a9c" stroke-width="0.25" textLength="40.7" lengthAdjust="spacingAndGlyphs">Low (<tspan font-style="italic">n</tspan> = 45)</text>
<text x="185.50" y="336.92" font-size="7.2" fill="#b24a45" stroke="#b24a45" stroke-width="0.25" textLength="41.2" lengthAdjust="spacingAndGlyphs">High (<tspan font-style="italic">n</tspan> = 32)</text>
<text x="160.60" y="363.92" font-size="7.2" fill="#2a2a2a" stroke="#2a2a2a" stroke-width="0.28" textLength="70.3" lengthAdjust="spacingAndGlyphs">HR = 5.19 (1.5–17.94)</text>
<text x="160.80" y="373.82" font-size="7.2" fill="#2a2a2a" stroke="#2a2a2a" stroke-width="0.28" textLength="33.3" lengthAdjust="spacingAndGlyphs"><tspan font-style="italic">P</tspan> = 0.0062</text>
<line x1="33.60" y1="174.50" x2="123.40" y2="174.50" stroke="#efefef" stroke-width="0.6"/>
<line x1="33.60" y1="196.20" x2="123.40" y2="196.20" stroke="#efefef" stroke-width="0.6"/>
<line x1="33.60" y1="218.20" x2="123.40" y2="218.20" stroke="#efefef" stroke-width="0.6"/>
<line x1="33.60" y1="239.90" x2="123.40" y2="239.90" stroke="#efefef" stroke-width="0.6"/>
<line x1="58.00" y1="164.80" x2="58.00" y2="246.80" stroke="#efefef" stroke-width="0.6"/>
<line x1="99.60" y1="164.80" x2="99.60" y2="246.80" stroke="#efefef" stroke-width="0.6"/>
<rect x="33.60" y="164.80" width="89.80" height="82.00" fill="none" stroke="#9a9a9a" stroke-width="0.9"/>
<line x1="32.10" y1="174.50" x2="33.60" y2="174.50" stroke="#555" stroke-width="0.6"/>
<text x="31.80" y="176.67" font-size="5.4" text-anchor="end" fill="#333" stroke="#333" stroke-width="0.2">-4</text>
<line x1="32.10" y1="196.20" x2="33.60" y2="196.20" stroke="#555" stroke-width="0.6"/>
<text x="31.80" y="198.37" font-size="5.4" text-anchor="end" fill="#333" stroke="#333" stroke-width="0.2">-8</text>
<line x1="32.10" y1="218.20" x2="33.60" y2="218.20" stroke="#555" stroke-width="0.6"/>
<text x="31.80" y="220.37" font-size="5.4" text-anchor="end" fill="#333" stroke="#333" stroke-width="0.2">-12</text>
<line x1="32.10" y1="239.90" x2="33.60" y2="239.90" stroke="#555" stroke-width="0.6"/>
<text x="31.80" y="242.07" font-size="5.4" text-anchor="end" fill="#333" stroke="#333" stroke-width="0.2">-16</text>
<text x="73.85" y="160.93" font-size="8.6" text-anchor="middle" fill="#222" textLength="19.40" lengthAdjust="spacingAndGlyphs" stroke="#222" stroke-width="0.25">TCGA</text>
<line x1="58.00" y1="169.00" x2="58.00" y2="234.00" stroke="#9a8a8a" stroke-width="0.6"/>
<circle cx="56.38" cy="181.41" r="0.95" fill="#d8efe4" stroke="#3f8f70" stroke-width="0.4" fill-opacity="0.6"/>
<circle cx="59.39" cy="180.16" r="0.95" fill="#d8efe4" stroke="#3f8f70" stroke-width="0.4" fill-opacity="0.6"/>
<circle cx="58.33" cy="184.85" r="0.95" fill="#d8efe4" stroke="#3f8f70" stroke-width="0.4" fill-opacity="0.6"/>
<circle cx="53.93" cy="187.12" r="0.95" fill="#d8efe4" stroke="#3f8f70" stroke-width="0.4" fill-opacity="0.6"/>
<circle cx="53.74" cy="185.94" r="0.95" fill="#d8efe4" stroke="#3f8f70" stroke-width="0.4" fill-opacity="0.6"/>
<circle cx="57.31" cy="192.23" r="0.95" fill="#d8efe4" stroke="#3f8f70" stroke-width="0.4" fill-opacity="0.6"/>
<circle cx="54.54" cy="182.57" r="0.95" fill="#d8efe4" stroke="#3f8f70" stroke-width="0.4" fill-opacity="0.6"/>
<circle cx="59.17" cy="194.16" r="0.95" fill="#d8efe4" stroke="#3f8f70" stroke-width="0.4" fill-opacity="0.6"/>
<circle cx="58.71" cy="185.35" r="0.95" fill="#d8efe4" stroke="#3f8f70" stroke-width="0.4" fill-opacity="0.6"/>
<circle cx="61.30" cy="183.63" r="0.95" fill="#d8efe4" stroke="#3f8f70" stroke-width="0.4" fill-opacity="0.6"/>
<circle cx="56.24" cy="192.06" r="0.95" fill="#d8efe4" stroke="#3f8f70" stroke-width="0.4" fill-opacity="0.6"/>
<circle cx="55.06" cy="188.31" r="0.95" fill="#d8efe4" stroke="#3f8f70" stroke-width="0.4" fill-opacity="0.6"/>
<circle cx="59.28" cy="184.96" r="0.95" fill="#d8efe4" stroke="#3f8f70" stroke-width="0.4" fill-opacity="0.6"/>
<circle cx="58.44" cy="180.00" r="0.95" fill="#d8efe4" stroke="#3f8f70" stroke-width="0.4" fill-opacity="0.6"/>
<circle cx="59.66" cy="185.84" r="0.95" fill="#d8efe4" stroke="#3f8f70" stroke-width="0.4" fill-opacity="0.6"/>
<circle cx="56.29" cy="188.37" r="0.95" fill="#d8efe4" stroke="#3f8f70" stroke-width="0.4" fill-opacity="0.6"/>
<circle cx="57.57" cy="183.80" r="0.95" fill="#d8efe4" stroke="#3f8f70" stroke-width="0.4" fill-opacity="0.6"/>
<circle cx="60.71" cy="190.18" r="0.95" fill="#d8efe4" stroke="#3f8f70" stroke-width="0.4" fill-opacity="0.6"/>
<circle cx="55.65" cy="188.19" r="0.95" fill="#d8efe4" stroke="#3f8f70" stroke-width="0.4" fill-opacity="0.6"/>
<circle cx="58.23" cy="193.00" r="0.95" fill="#d8efe4" stroke="#3f8f70" stroke-width="0.4" fill-opacity="0.6"/>
<circle cx="60.11" cy="183.61" r="0.95" fill="#d8efe4" stroke="#3f8f70" stroke-width="0.4" fill-opacity="0.6"/>
<circle cx="57.25" cy="191.11" r="0.95" fill="#d8efe4" stroke="#3f8f70" stroke-width="0.4" fill-opacity="0.6"/>
<circle cx="54.80" cy="186.82" r="0.95" fill="#d8efe4" stroke="#3f8f70" stroke-width="0.4" fill-opacity="0.6"/>
<circle cx="53.76" cy="189.69" r="0.95" fill="#d8efe4" stroke="#3f8f70" stroke-width="0.4" fill-opacity="0.6"/>
<circle cx="60.43" cy="188.17" r="0.95" fill="#d8efe4" stroke="#3f8f70" stroke-width="0.4" fill-opacity="0.6"/>
<circle cx="61.45" cy="184.02" r="0.95" fill="#d8efe4" stroke="#3f8f70" stroke-width="0.4" fill-opacity="0.6"/>
<circle cx="59.80" cy="188.51" r="0.95" fill="#d8efe4" stroke="#3f8f70" stroke-width="0.4" fill-opacity="0.6"/>
<circle cx="58.74" cy="186.30" r="0.95" fill="#d8efe4" stroke="#3f8f70" stroke-width="0.4" fill-opacity="0.6"/>
<circle cx="57.76" cy="189.63" r="0.95" fill="#d8efe4" stroke="#3f8f70" stroke-width="0.4" fill-opacity="0.6"/>
<circle cx="53.96" cy="190.22" r="0.95" fill="#d8efe4" stroke="#3f8f70" stroke-width="0.4" fill-opacity="0.6"/>
<circle cx="60.96" cy="183.55" r="0.95" fill="#d8efe4" stroke="#3f8f70" stroke-width="0.4" fill-opacity="0.6"/>
<circle cx="56.95" cy="189.70" r="0.95" fill="#d8efe4" stroke="#3f8f70" stroke-width="0.4" fill-opacity="0.6"/>
<circle cx="53.61" cy="186.39" r="0.95" fill="#d8efe4" stroke="#3f8f70" stroke-width="0.4" fill-opacity="0.6"/>
<circle cx="54.59" cy="182.96" r="0.95" fill="#d8efe4" stroke="#3f8f70" stroke-width="0.4" fill-opacity="0.6"/>
<circle cx="57.00" cy="192.94" r="0.95" fill="#d8efe4" stroke="#3f8f70" stroke-width="0.4" fill-opacity="0.6"/>
<circle cx="54.14" cy="186.19" r="0.95" fill="#d8efe4" stroke="#3f8f70" stroke-width="0.4" fill-opacity="0.6"/>
<circle cx="58.45" cy="193.13" r="0.95" fill="#d8efe4" stroke="#3f8f70" stroke-width="0.4" fill-opacity="0.6"/>
<circle cx="60.94" cy="192.82" r="0.95" fill="#d8efe4" stroke="#3f8f70" stroke-width="0.4" fill-opacity="0.6"/>
<circle cx="55.96" cy="185.64" r="0.95" fill="#d8efe4" stroke="#3f8f70" stroke-width="0.4" fill-opacity="0.6"/>
<circle cx="56.70" cy="193.15" r="0.95" fill="#d8efe4" stroke="#3f8f70" stroke-width="0.4" fill-opacity="0.6"/>
<circle cx="55.02" cy="182.71" r="0.95" fill="#d8efe4" stroke="#3f8f70" stroke-width="0.4" fill-opacity="0.6"/>
<circle cx="55.55" cy="186.76" r="0.95" fill="#d8efe4" stroke="#3f8f70" stroke-width="0.4" fill-opacity="0.6"/>
<circle cx="58.82" cy="183.20" r="0.95" fill="#d8efe4" stroke="#3f8f70" stroke-width="0.4" fill-opacity="0.6"/>
<circle cx="56.80" cy="188.06" r="0.95" fill="#d8efe4" stroke="#3f8f70" stroke-width="0.4" fill-opacity="0.6"/>
<circle cx="62.17" cy="190.05" r="0.95" fill="#d8efe4" stroke="#3f8f70" stroke-width="0.4" fill-opacity="0.6"/>
<circle cx="58.14" cy="188.88" r="0.95" fill="#d8efe4" stroke="#3f8f70" stroke-width="0.4" fill-opacity="0.6"/>
<circle cx="59.62" cy="179.86" r="0.95" fill="#d8efe4" stroke="#3f8f70" stroke-width="0.4" fill-opacity="0.6"/>
<circle cx="61.68" cy="191.48" r="0.95" fill="#d8efe4" stroke="#3f8f70" stroke-width="0.4" fill-opacity="0.6"/>
<circle cx="61.45" cy="191.77" r="0.95" fill="#d8efe4" stroke="#3f8f70" stroke-width="0.4" fill-opacity="0.6"/>
<circle cx="57.01" cy="185.38" r="0.95" fill="#d8efe4" stroke="#3f8f70" stroke-width="0.4" fill-opacity="0.6"/>
<circle cx="55.93" cy="174.63" r="0.95" fill="#d8efe4" stroke="#3f8f70" stroke-width="0.4" fill-opacity="0.6"/>
<circle cx="56.27" cy="170.66" r="0.95" fill="#d8efe4" stroke="#3f8f70" stroke-width="0.4" fill-opacity="0.6"/>
<circle cx="56.69" cy="169.74" r="0.95" fill="#d8efe4" stroke="#3f8f70" stroke-width="0.4" fill-opacity="0.6"/>
<circle cx="55.92" cy="172.35" r="0.95" fill="#d8efe4" stroke="#3f8f70" stroke-width="0.4" fill-opacity="0.6"/>
<circle cx="57.57" cy="170.55" r="0.95" fill="#d8efe4" stroke="#3f8f70" stroke-width="0.4" fill-opacity="0.6"/>
<circle cx="56.41" cy="172.22" r="0.95" fill="#d8efe4" stroke="#3f8f70" stroke-width="0.4" fill-opacity="0.6"/>
<circle cx="56.77" cy="170.33" r="0.95" fill="#d8efe4" stroke="#3f8f70" stroke-width="0.4" fill-opacity="0.6"/>
<circle cx="57.09" cy="173.36" r="0.95" fill="#d8efe4" stroke="#3f8f70" stroke-width="0.4" fill-opacity="0.6"/>
<circle cx="56.00" cy="197.49" r="0.95" fill="#d8efe4" stroke="#3f8f70" stroke-width="0.4" fill-opacity="0.6"/>
<circle cx="57.55" cy="196.83" r="0.95" fill="#d8efe4" stroke="#3f8f70" stroke-width="0.4" fill-opacity="0.6"/>
<circle cx="56.59" cy="196.74" r="0.95" fill="#d8efe4" stroke="#3f8f70" stroke-width="0.4" fill-opacity="0.6"/>
<circle cx="56.64" cy="195.97" r="0.95" fill="#d8efe4" stroke="#3f8f70" stroke-width="0.4" fill-opacity="0.6"/>
<circle cx="56.59" cy="202.06" r="0.95" fill="#d8efe4" stroke="#3f8f70" stroke-width="0.4" fill-opacity="0.6"/>
<path d="M47.9,243.2 L58,233.8 L68.7,243.2 Z" stroke="#9a8a8a" stroke-width="0.6" fill="none"/>
<line x1="53.00" y1="243.00" x2="63.00" y2="243.00" stroke="#3f8f78" stroke-width="1.3"/>
<rect x="60.70" y="228.20" width="9.60" height="4.40" fill="#fff" stroke="#888" stroke-width="0.45"/>
<text x="65.50" y="231.64" font-size="3.4" text-anchor="middle" fill="#111" textLength="7.10" lengthAdjust="spacingAndGlyphs" stroke="#111" stroke-width="0.15">-15.28</text>
<circle cx="58.00" cy="236.30" r="2.4" fill="#f3d8d0" opacity="0.8"/>
<circle cx="58.00" cy="236.30" r="1.7" fill="#7a0d15" stroke="#300" stroke-width="0.3"/>
<rect x="93.2" y="188.0" width="12.4" height="55.2" fill="none" stroke="#8f8a86" stroke-width="0.6"/>
<line x1="99.20" y1="169.00" x2="99.20" y2="243.00" stroke="#9a8a8a" stroke-width="0.5"/>
<circle cx="102.05" cy="185.55" r="0.95" fill="#fbe3c8" stroke="#d08a40" stroke-width="0.4" fill-opacity="0.6"/>
<circle cx="96.99" cy="181.27" r="0.95" fill="#fbe3c8" stroke="#d08a40" stroke-width="0.4" fill-opacity="0.6"/>
<circle cx="96.20" cy="186.54" r="0.95" fill="#fbe3c8" stroke="#d08a40" stroke-width="0.4" fill-opacity="0.6"/>
<circle cx="99.27" cy="186.63" r="0.95" fill="#fbe3c8" stroke="#d08a40" stroke-width="0.4" fill-opacity="0.6"/>
<circle cx="97.57" cy="179.40" r="0.95" fill="#fbe3c8" stroke="#d08a40" stroke-width="0.4" fill-opacity="0.6"/>
<circle cx="101.96" cy="186.98" r="0.95" fill="#fbe3c8" stroke="#d08a40" stroke-width="0.4" fill-opacity="0.6"/>
<circle cx="101.67" cy="186.12" r="0.95" fill="#fbe3c8" stroke="#d08a40" stroke-width="0.4" fill-opacity="0.6"/>
<circle cx="96.70" cy="183.23" r="0.95" fill="#fbe3c8" stroke="#d08a40" stroke-width="0.4" fill-opacity="0.6"/>
<circle cx="97.79" cy="176.88" r="0.95" fill="#fbe3c8" stroke="#d08a40" stroke-width="0.4" fill-opacity="0.6"/>
<circle cx="96.98" cy="185.50" r="0.95" fill="#fbe3c8" stroke="#d08a40" stroke-width="0.4" fill-opacity="0.6"/>
<circle cx="102.83" cy="182.31" r="0.95" fill="#fbe3c8" stroke="#d08a40" stroke-width="0.4" fill-opacity="0.6"/>
<circle cx="102.82" cy="181.24" r="0.95" fill="#fbe3c8" stroke="#d08a40" stroke-width="0.4" fill-opacity="0.6"/>
<circle cx="96.65" cy="179.45" r="0.95" fill="#fbe3c8" stroke="#d08a40" stroke-width="0.4" fill-opacity="0.6"/>
<circle cx="96.45" cy="179.16" r="0.95" fill="#fbe3c8" stroke="#d08a40" stroke-width="0.4" fill-opacity="0.6"/>
<circle cx="100.04" cy="188.20" r="0.95" fill="#fbe3c8" stroke="#d08a40" stroke-width="0.4" fill-opacity="0.6"/>
<circle cx="101.86" cy="182.73" r="0.95" fill="#fbe3c8" stroke="#d08a40" stroke-width="0.4" fill-opacity="0.6"/>
<circle cx="100.29" cy="186.90" r="0.95" fill="#fbe3c8" stroke="#d08a40" stroke-width="0.4" fill-opacity="0.6"/>
<circle cx="95.51" cy="185.09" r="0.95" fill="#fbe3c8" stroke="#d08a40" stroke-width="0.4" fill-opacity="0.6"/>
<circle cx="102.44" cy="186.67" r="0.95" fill="#fbe3c8" stroke="#d08a40" stroke-width="0.4" fill-opacity="0.6"/>
<circle cx="101.10" cy="182.71" r="0.95" fill="#fbe3c8" stroke="#d08a40" stroke-width="0.4" fill-opacity="0.6"/>
<circle cx="96.30" cy="186.76" r="0.95" fill="#fbe3c8" stroke="#d08a40" stroke-width="0.4" fill-opacity="0.6"/>
<circle cx="97.59" cy="186.91" r="0.95" fill="#fbe3c8" stroke="#d08a40" stroke-width="0.4" fill-opacity="0.6"/>
<circle cx="102.96" cy="181.65" r="0.95" fill="#fbe3c8" stroke="#d08a40" stroke-width="0.4" fill-opacity="0.6"/>
<circle cx="98.17" cy="188.81" r="0.95" fill="#fbe3c8" stroke="#d08a40" stroke-width="0.4" fill-opacity="0.6"/>
<circle cx="100.89" cy="178.71" r="0.95" fill="#fbe3c8" stroke="#d08a40" stroke-width="0.4" fill-opacity="0.6"/>
<circle cx="96.03" cy="187.24" r="0.95" fill="#fbe3c8" stroke="#d08a40" stroke-width="0.4" fill-opacity="0.6"/>
<circle cx="97.74" cy="183.63" r="0.95" fill="#fbe3c8" stroke="#d08a40" stroke-width="0.4" fill-opacity="0.6"/>
<circle cx="102.96" cy="184.95" r="0.95" fill="#fbe3c8" stroke="#d08a40" stroke-width="0.4" fill-opacity="0.6"/>
<circle cx="99.22" cy="188.64" r="0.95" fill="#fbe3c8" stroke="#d08a40" stroke-width="0.4" fill-opacity="0.6"/>
<circle cx="98.44" cy="187.83" r="0.95" fill="#fbe3c8" stroke="#d08a40" stroke-width="0.4" fill-opacity="0.6"/>
<circle cx="101.74" cy="179.24" r="0.95" fill="#fbe3c8" stroke="#d08a40" stroke-width="0.4" fill-opacity="0.6"/>
<circle cx="96.92" cy="180.31" r="0.95" fill="#fbe3c8" stroke="#d08a40" stroke-width="0.4" fill-opacity="0.6"/>
<circle cx="96.82" cy="184.12" r="0.95" fill="#fbe3c8" stroke="#d08a40" stroke-width="0.4" fill-opacity="0.6"/>
<circle cx="96.98" cy="181.95" r="0.95" fill="#fbe3c8" stroke="#d08a40" stroke-width="0.4" fill-opacity="0.6"/>
<circle cx="97.77" cy="182.46" r="0.95" fill="#fbe3c8" stroke="#d08a40" stroke-width="0.4" fill-opacity="0.6"/>
<circle cx="99.70" cy="188.26" r="0.95" fill="#fbe3c8" stroke="#d08a40" stroke-width="0.4" fill-opacity="0.6"/>
<circle cx="98.33" cy="188.43" r="0.95" fill="#fbe3c8" stroke="#d08a40" stroke-width="0.4" fill-opacity="0.6"/>
<circle cx="99.01" cy="183.41" r="0.95" fill="#fbe3c8" stroke="#d08a40" stroke-width="0.4" fill-opacity="0.6"/>
<circle cx="99.20" cy="176.74" r="0.95" fill="#fbe3c8" stroke="#d08a40" stroke-width="0.4" fill-opacity="0.6"/>
<circle cx="98.50" cy="178.88" r="0.95" fill="#fbe3c8" stroke="#d08a40" stroke-width="0.4" fill-opacity="0.6"/>
<circle cx="96.25" cy="182.66" r="0.95" fill="#fbe3c8" stroke="#d08a40" stroke-width="0.4" fill-opacity="0.6"/>
<circle cx="100.89" cy="183.73" r="0.95" fill="#fbe3c8" stroke="#d08a40" stroke-width="0.4" fill-opacity="0.6"/>
<circle cx="97.54" cy="183.24" r="0.95" fill="#fbe3c8" stroke="#d08a40" stroke-width="0.4" fill-opacity="0.6"/>
<circle cx="99.47" cy="186.70" r="0.95" fill="#fbe3c8" stroke="#d08a40" stroke-width="0.4" fill-opacity="0.6"/>
<circle cx="95.69" cy="183.78" r="0.95" fill="#fbe3c8" stroke="#d08a40" stroke-width="0.4" fill-opacity="0.6"/>
<circle cx="98.05" cy="170.66" r="0.95" fill="#fbe3c8" stroke="#d08a40" stroke-width="0.4" fill-opacity="0.6"/>
<circle cx="99.62" cy="172.05" r="0.95" fill="#fbe3c8" stroke="#d08a40" stroke-width="0.4" fill-opacity="0.6"/>
<circle cx="98.99" cy="173.56" r="0.95" fill="#fbe3c8" stroke="#d08a40" stroke-width="0.4" fill-opacity="0.6"/>
<circle cx="100.04" cy="171.66" r="0.95" fill="#fbe3c8" stroke="#d08a40" stroke-width="0.4" fill-opacity="0.6"/>
<circle cx="99.14" cy="172.03" r="0.95" fill="#fbe3c8" stroke="#d08a40" stroke-width="0.4" fill-opacity="0.6"/>
<circle cx="98.84" cy="173.16" r="0.95" fill="#fbe3c8" stroke="#d08a40" stroke-width="0.4" fill-opacity="0.6"/>
<circle cx="98.66" cy="172.20" r="0.95" fill="#fbe3c8" stroke="#d08a40" stroke-width="0.4" fill-opacity="0.6"/>
<path d="M96.7,231.3 L95.1,243 M102.3,231.3 L104,243" stroke="#9a8a8a" stroke-width="0.5" fill="none"/>
<line x1="95.10" y1="242.80" x2="104.60" y2="242.80" stroke="#e08a40" stroke-width="1.3"/>
<rect x="87.80" y="227.65" width="10.50" height="4.40" fill="#fff" stroke="#888" stroke-width="0.45"/>
<text x="93.05" y="231.09" font-size="3.4" text-anchor="middle" fill="#111" textLength="7.77" lengthAdjust="spacingAndGlyphs" stroke="#111" stroke-width="0.15">-13.196</text>
<circle cx="99.60" cy="224.60" r="2.4" fill="#f3d8d0" opacity="0.8"/>
<circle cx="99.60" cy="224.60" r="1.7" fill="#7a0d15" stroke="#300" stroke-width="0.3"/>
<text x="57.50" y="256.21" font-size="8.8" text-anchor="middle" fill="#2a2a2a" textLength="37.50" lengthAdjust="spacingAndGlyphs" stroke="#2a2a2a" stroke-width="0.18">Non-TNBC</text>
<text x="100.25" y="256.21" font-size="8.8" text-anchor="middle" fill="#2a2a2a" textLength="19.50" lengthAdjust="spacingAndGlyphs" stroke="#2a2a2a" stroke-width="0.18">TNBC</text>
<text x="8.92" y="205.90" font-size="8.0" text-anchor="middle" fill="#2a2a2a" textLength="82.00" lengthAdjust="spacingAndGlyphs" stroke="#2a2a2a" stroke-width="0.25" transform="rotate(-90 8.92 205.90)">Relative expression of</text>
<text x="18.82" y="205.30" font-size="8.0" text-anchor="middle" fill="#2a2a2a" textLength="63.30" lengthAdjust="spacingAndGlyphs" stroke="#2a2a2a" stroke-width="0.25" transform="rotate(-90 18.82 205.30)">NAMPT-AS (log<tspan baseline-shift="sub" font-size="5.5">2</tspan>)</text>
<line x1="163.60" y1="179.10" x2="255.60" y2="179.10" stroke="#efefef" stroke-width="0.6"/>
<line x1="163.60" y1="195.80" x2="255.60" y2="195.80" stroke="#efefef" stroke-width="0.6"/>
<line x1="163.60" y1="211.60" x2="255.60" y2="211.60" stroke="#efefef" stroke-width="0.6"/>
<line x1="163.60" y1="227.70" x2="255.60" y2="227.70" stroke="#efefef" stroke-width="0.6"/>
<line x1="163.60" y1="243.40" x2="255.60" y2="243.40" stroke="#efefef" stroke-width="0.6"/>
<line x1="188.70" y1="164.60" x2="188.70" y2="246.60" stroke="#efefef" stroke-width="0.6"/>
<line x1="230.10" y1="164.60" x2="230.10" y2="246.60" stroke="#efefef" stroke-width="0.6"/>
<rect x="163.60" y="164.60" width="92.00" height="82.00" fill="none" stroke="#9a9a9a" stroke-width="0.9"/>
<line x1="162.10" y1="179.10" x2="163.60" y2="179.10" stroke="#555" stroke-width="0.6"/>
<text x="161.80" y="181.34" font-size="5.6" text-anchor="end" fill="#333" textLength="6.20" lengthAdjust="spacingAndGlyphs" stroke="#333" stroke-width="0.2">2.0</text>
<line x1="162.10" y1="195.80" x2="163.60" y2="195.80" stroke="#555" stroke-width="0.6"/>
<text x="161.80" y="198.04" font-size="5.6" text-anchor="end" fill="#333" textLength="6.20" lengthAdjust="spacingAndGlyphs" stroke="#333" stroke-width="0.2">1.5</text>
<line x1="162.10" y1="211.60" x2="163.60" y2="211.60" stroke="#555" stroke-width="0.6"/>
<text x="161.80" y="213.84" font-size="5.6" text-anchor="end" fill="#333" textLength="6.20" lengthAdjust="spacingAndGlyphs" stroke="#333" stroke-width="0.2">1.0</text>
<line x1="162.10" y1="227.70" x2="163.60" y2="227.70" stroke="#555" stroke-width="0.6"/>
<text x="161.80" y="229.94" font-size="5.6" text-anchor="end" fill="#333" textLength="6.20" lengthAdjust="spacingAndGlyphs" stroke="#333" stroke-width="0.2">0.5</text>
<line x1="162.10" y1="243.40" x2="163.60" y2="243.40" stroke="#555" stroke-width="0.6"/>
<text x="161.80" y="245.64" font-size="5.6" text-anchor="end" fill="#333" textLength="6.20" lengthAdjust="spacingAndGlyphs" stroke="#333" stroke-width="0.2">0.0</text>
<text x="203.10" y="160.93" font-size="8.6" text-anchor="middle" fill="#222" textLength="36.25" lengthAdjust="spacingAndGlyphs" stroke="#222" stroke-width="0.25">GSE58135</text>
<path d="M189,203.1 C186,210 184,214 183,217 C181,222 178.6,227 178.6,231 L178.6,239 C179,241 181,242.5 183,243.2 L194.5,243.2 C196.5,242 198.4,240 198.4,238 L198.4,230 C197,226 195,221 193.5,216 C192,212 190.5,206 189,203.1 Z" stroke="#a9bfbb" stroke-width="0.6" fill="none"/>
<rect x="178.6" y="229" width="15.8" height="11.6" fill="none" stroke="#999" stroke-width="0.5"/>
<line x1="178.60" y1="234.40" x2="194.40" y2="234.40" stroke="#999" stroke-width="0.5"/>
<circle cx="188.15" cy="240.18" r="0.7" fill="#bfe3d6" stroke="#6fb0a0" stroke-width="0.35" fill-opacity="0.8"/>
<circle cx="191.69" cy="239.27" r="0.7" fill="#bfe3d6" stroke="#6fb0a0" stroke-width="0.35" fill-opacity="0.8"/>
<circle cx="189.45" cy="240.21" r="0.7" fill="#bfe3d6" stroke="#6fb0a0" stroke-width="0.35" fill-opacity="0.8"/>
<circle cx="193.94" cy="228.92" r="0.7" fill="#bfe3d6" stroke="#6fb0a0" stroke-width="0.35" fill-opacity="0.8"/>
<circle cx="182.45" cy="233.19" r="0.7" fill="#bfe3d6" stroke="#6fb0a0" stroke-width="0.35" fill-opacity="0.8"/>
<circle cx="181.66" cy="230.37" r="0.7" fill="#bfe3d6" stroke="#6fb0a0" stroke-width="0.35" fill-opacity="0.8"/>
<circle cx="181.67" cy="236.37" r="0.7" fill="#bfe3d6" stroke="#6fb0a0" stroke-width="0.35" fill-opacity="0.8"/>
<circle cx="193.04" cy="239.56" r="0.7" fill="#bfe3d6" stroke="#6fb0a0" stroke-width="0.35" fill-opacity="0.8"/>
<circle cx="182.97" cy="237.03" r="0.7" fill="#bfe3d6" stroke="#6fb0a0" stroke-width="0.35" fill-opacity="0.8"/>
<circle cx="191.06" cy="229.00" r="0.7" fill="#bfe3d6" stroke="#6fb0a0" stroke-width="0.35" fill-opacity="0.8"/>
<circle cx="186.87" cy="233.82" r="0.7" fill="#bfe3d6" stroke="#6fb0a0" stroke-width="0.35" fill-opacity="0.8"/>
<circle cx="183.08" cy="233.04" r="0.7" fill="#bfe3d6" stroke="#6fb0a0" stroke-width="0.35" fill-opacity="0.8"/>
<circle cx="188.75" cy="231.75" r="0.7" fill="#bfe3d6" stroke="#6fb0a0" stroke-width="0.35" fill-opacity="0.8"/>
<circle cx="183.63" cy="231.46" r="0.7" fill="#bfe3d6" stroke="#6fb0a0" stroke-width="0.35" fill-opacity="0.8"/>
<circle cx="189.36" cy="233.17" r="0.7" fill="#bfe3d6" stroke="#6fb0a0" stroke-width="0.35" fill-opacity="0.8"/>
<circle cx="190.48" cy="234.17" r="0.7" fill="#bfe3d6" stroke="#6fb0a0" stroke-width="0.35" fill-opacity="0.8"/>
<circle cx="182.18" cy="230.72" r="0.7" fill="#bfe3d6" stroke="#6fb0a0" stroke-width="0.35" fill-opacity="0.8"/>
<circle cx="184.83" cy="228.81" r="0.7" fill="#bfe3d6" stroke="#6fb0a0" stroke-width="0.35" fill-opacity="0.8"/>
<circle cx="187.26" cy="239.76" r="0.7" fill="#bfe3d6" stroke="#6fb0a0" stroke-width="0.35" fill-opacity="0.8"/>
<circle cx="193.60" cy="230.62" r="0.7" fill="#bfe3d6" stroke="#6fb0a0" stroke-width="0.35" fill-opacity="0.8"/>
<circle cx="189.63" cy="236.81" r="0.7" fill="#bfe3d6" stroke="#6fb0a0" stroke-width="0.35" fill-opacity="0.8"/>
<circle cx="191.51" cy="232.95" r="0.7" fill="#bfe3d6" stroke="#6fb0a0" stroke-width="0.35" fill-opacity="0.8"/>
<circle cx="189.67" cy="219.62" r="0.7" fill="#bfe3d6" stroke="#6fb0a0" stroke-width="0.35" fill-opacity="0.8"/>
<circle cx="188.77" cy="214.07" r="0.7" fill="#bfe3d6" stroke="#6fb0a0" stroke-width="0.35" fill-opacity="0.8"/>
<circle cx="189.27" cy="221.12" r="0.7" fill="#bfe3d6" stroke="#6fb0a0" stroke-width="0.35" fill-opacity="0.8"/>
<circle cx="187.84" cy="211.55" r="0.7" fill="#bfe3d6" stroke="#6fb0a0" stroke-width="0.35" fill-opacity="0.8"/>
<circle cx="189.13" cy="212.86" r="0.7" fill="#bfe3d6" stroke="#6fb0a0" stroke-width="0.35" fill-opacity="0.8"/>
<circle cx="188.06" cy="213.66" r="0.7" fill="#bfe3d6" stroke="#6fb0a0" stroke-width="0.35" fill-opacity="0.8"/>
<rect x="178.00" y="235.60" width="7.40" height="4.40" fill="#fff" stroke="#888" stroke-width="0.45"/>
<text x="181.70" y="239.04" font-size="3.4" text-anchor="middle" fill="#111" textLength="5.48" lengthAdjust="spacingAndGlyphs" stroke="#111" stroke-width="0.15">0.391</text>
<circle cx="188.70" cy="231.70" r="2.05" fill="#f3d8d0" opacity="0.8"/>
<circle cx="188.70" cy="231.70" r="1.35" fill="#111" stroke="#300" stroke-width="0.3"/>
<path d="M230.1,167.8 C229.3,172 229,180 228.4,186 C228,190 227.6,193 226.6,196 C225.6,199 224.4,203 223.6,207 L223.4,244.6 L237.0,244.6 L236.9,207 C236.2,203 235,199 234,196 C233,193 232.6,190 232.2,186 C231.6,180 231.2,172 230.5,167.8 Z" stroke="#b3bfbd" stroke-width="0.55" fill="none"/>
<rect x="223.3" y="208.1" width="13.5" height="36.9" fill="none" stroke="#a0a0a0" stroke-width="0.5"/>
<line x1="223.30" y1="226.00" x2="236.80" y2="226.00" stroke="#a0a0a0" stroke-width="0.5"/>
<circle cx="232.85" cy="221.70" r="0.7" fill="#f6d2b0" stroke="#d8925a" stroke-width="0.35" fill-opacity="0.8"/>
<circle cx="230.00" cy="218.34" r="0.7" fill="#f6d2b0" stroke="#d8925a" stroke-width="0.35" fill-opacity="0.8"/>
<circle cx="232.56" cy="229.53" r="0.7" fill="#f6d2b0" stroke="#d8925a" stroke-width="0.35" fill-opacity="0.8"/>
<circle cx="226.58" cy="227.24" r="0.7" fill="#f6d2b0" stroke="#d8925a" stroke-width="0.35" fill-opacity="0.8"/>
<circle cx="233.51" cy="225.97" r="0.7" fill="#f6d2b0" stroke="#d8925a" stroke-width="0.35" fill-opacity="0.8"/>
<circle cx="229.95" cy="238.04" r="0.7" fill="#f6d2b0" stroke="#d8925a" stroke-width="0.35" fill-opacity="0.8"/>
<circle cx="228.82" cy="228.20" r="0.7" fill="#f6d2b0" stroke="#d8925a" stroke-width="0.35" fill-opacity="0.8"/>
<circle cx="228.27" cy="237.97" r="0.7" fill="#f6d2b0" stroke="#d8925a" stroke-width="0.35" fill-opacity="0.8"/>
<circle cx="232.27" cy="232.08" r="0.7" fill="#f6d2b0" stroke="#d8925a" stroke-width="0.35" fill-opacity="0.8"/>
<circle cx="228.95" cy="223.43" r="0.7" fill="#f6d2b0" stroke="#d8925a" stroke-width="0.35" fill-opacity="0.8"/>
<circle cx="225.28" cy="235.23" r="0.7" fill="#f6d2b0" stroke="#d8925a" stroke-width="0.35" fill-opacity="0.8"/>
<circle cx="227.31" cy="217.90" r="0.7" fill="#f6d2b0" stroke="#d8925a" stroke-width="0.35" fill-opacity="0.8"/>
<circle cx="234.08" cy="233.12" r="0.7" fill="#f6d2b0" stroke="#d8925a" stroke-width="0.35" fill-opacity="0.8"/>
<circle cx="227.60" cy="220.27" r="0.7" fill="#f6d2b0" stroke="#d8925a" stroke-width="0.35" fill-opacity="0.8"/>
<circle cx="227.72" cy="226.78" r="0.7" fill="#f6d2b0" stroke="#d8925a" stroke-width="0.35" fill-opacity="0.8"/>
<circle cx="226.23" cy="226.37" r="0.7" fill="#f6d2b0" stroke="#d8925a" stroke-width="0.35" fill-opacity="0.8"/>
<circle cx="235.20" cy="229.41" r="0.7" fill="#f6d2b0" stroke="#d8925a" stroke-width="0.35" fill-opacity="0.8"/>
<circle cx="227.91" cy="223.70" r="0.7" fill="#f6d2b0" stroke="#d8925a" stroke-width="0.35" fill-opacity="0.8"/>
<circle cx="229.72" cy="228.08" r="0.7" fill="#f6d2b0" stroke="#d8925a" stroke-width="0.35" fill-opacity="0.8"/>
<circle cx="226.71" cy="228.14" r="0.7" fill="#f6d2b0" stroke="#d8925a" stroke-width="0.35" fill-opacity="0.8"/>
<circle cx="225.49" cy="224.99" r="0.7" fill="#f6d2b0" stroke="#d8925a" stroke-width="0.35" fill-opacity="0.8"/>
<circle cx="227.85" cy="219.98" r="0.7" fill="#f6d2b0" stroke="#d8925a" stroke-width="0.35" fill-opacity="0.8"/>
<circle cx="230.94" cy="228.88" r="0.7" fill="#f6d2b0" stroke="#d8925a" stroke-width="0.35" fill-opacity="0.8"/>
<circle cx="232.76" cy="232.73" r="0.7" fill="#f6d2b0" stroke="#d8925a" stroke-width="0.35" fill-opacity="0.8"/>
<circle cx="232.38" cy="239.37" r="0.7" fill="#f6d2b0" stroke="#d8925a" stroke-width="0.35" fill-opacity="0.8"/>
<circle cx="228.78" cy="222.78" r="0.7" fill="#f6d2b0" stroke="#d8925a" stroke-width="0.35" fill-opacity="0.8"/>
<circle cx="232.47" cy="232.30" r="0.7" fill="#f6d2b0" stroke="#d8925a" stroke-width="0.35" fill-opacity="0.8"/>
<circle cx="234.31" cy="231.82" r="0.7" fill="#f6d2b0" stroke="#d8925a" stroke-width="0.35" fill-opacity="0.8"/>
<circle cx="232.57" cy="237.37" r="0.7" fill="#f6d2b0" stroke="#d8925a" stroke-width="0.35" fill-opacity="0.8"/>
<circle cx="226.03" cy="228.71" r="0.7" fill="#f6d2b0" stroke="#d8925a" stroke-width="0.35" fill-opacity="0.8"/>
<circle cx="230.05" cy="238.05" r="0.7" fill="#f6d2b0" stroke="#d8925a" stroke-width="0.35" fill-opacity="0.8"/>
<circle cx="233.35" cy="237.79" r="0.7" fill="#f6d2b0" stroke="#d8925a" stroke-width="0.35" fill-opacity="0.8"/>
<circle cx="230.92" cy="239.78" r="0.7" fill="#f6d2b0" stroke="#d8925a" stroke-width="0.35" fill-opacity="0.8"/>
<circle cx="232.01" cy="233.80" r="0.7" fill="#f6d2b0" stroke="#d8925a" stroke-width="0.35" fill-opacity="0.8"/>
<circle cx="225.96" cy="223.82" r="0.7" fill="#f6d2b0" stroke="#d8925a" stroke-width="0.35" fill-opacity="0.8"/>
<circle cx="230.64" cy="231.83" r="0.7" fill="#f6d2b0" stroke="#d8925a" stroke-width="0.35" fill-opacity="0.8"/>
<circle cx="231.39" cy="233.42" r="0.7" fill="#f6d2b0" stroke="#d8925a" stroke-width="0.35" fill-opacity="0.8"/>
<circle cx="229.88" cy="213.10" r="0.7" fill="#f6d2b0" stroke="#d8925a" stroke-width="0.35" fill-opacity="0.8"/>
<circle cx="233.27" cy="235.45" r="0.7" fill="#f6d2b0" stroke="#d8925a" stroke-width="0.35" fill-opacity="0.8"/>
<circle cx="230.03" cy="229.06" r="0.7" fill="#f6d2b0" stroke="#d8925a" stroke-width="0.35" fill-opacity="0.8"/>
<circle cx="230.80" cy="196.66" r="0.7" fill="#f6d2b0" stroke="#d8925a" stroke-width="0.35" fill-opacity="0.8"/>
<circle cx="231.18" cy="198.52" r="0.7" fill="#f6d2b0" stroke="#d8925a" stroke-width="0.35" fill-opacity="0.8"/>
<circle cx="227.87" cy="198.66" r="0.7" fill="#f6d2b0" stroke="#d8925a" stroke-width="0.35" fill-opacity="0.8"/>
<circle cx="231.15" cy="198.05" r="0.7" fill="#f6d2b0" stroke="#d8925a" stroke-width="0.35" fill-opacity="0.8"/>
<circle cx="229.97" cy="199.83" r="0.7" fill="#f6d2b0" stroke="#d8925a" stroke-width="0.35" fill-opacity="0.8"/>
<circle cx="229.90" cy="202.84" r="0.7" fill="#f6d2b0" stroke="#d8925a" stroke-width="0.35" fill-opacity="0.8"/>
<circle cx="231.33" cy="202.17" r="0.7" fill="#f6d2b0" stroke="#d8925a" stroke-width="0.35" fill-opacity="0.8"/>
<circle cx="230.71" cy="196.77" r="0.7" fill="#f6d2b0" stroke="#d8925a" stroke-width="0.35" fill-opacity="0.8"/>
<circle cx="230.46" cy="184.28" r="0.5" fill="none" stroke="#caa" stroke-width="0.45" opacity="0.9"/>
<circle cx="229.96" cy="174.04" r="0.5" fill="none" stroke="#caa" stroke-width="0.45" opacity="0.9"/>
<circle cx="229.86" cy="179.54" r="0.5" fill="none" stroke="#caa" stroke-width="0.45" opacity="0.9"/>
<circle cx="230.73" cy="182.06" r="0.5" fill="none" stroke="#caa" stroke-width="0.45" opacity="0.9"/>
<rect x="218.90" y="224.90" width="7.80" height="4.40" fill="#fff" stroke="#888" stroke-width="0.45"/>
<text x="222.80" y="228.34" font-size="3.4" text-anchor="middle" fill="#111" textLength="5.77" lengthAdjust="spacingAndGlyphs" stroke="#111" stroke-width="0.15">0.676</text>
<circle cx="230.10" cy="221.50" r="2.4" fill="#f3d8d0" opacity="0.8"/>
<circle cx="230.10" cy="221.50" r="1.7" fill="#7a0d15" stroke="#300" stroke-width="0.3"/>
<text x="184.25" y="256.21" font-size="8.8" text-anchor="middle" fill="#2a2a2a" textLength="37.50" lengthAdjust="spacingAndGlyphs" stroke="#2a2a2a" stroke-width="0.18">Non-TNBC</text>
<text x="232.75" y="256.21" font-size="8.8" text-anchor="middle" fill="#2a2a2a" textLength="19.50" lengthAdjust="spacingAndGlyphs" stroke="#2a2a2a" stroke-width="0.18">TNBC</text>
<text x="139.12" y="205.90" font-size="8.0" text-anchor="middle" fill="#2a2a2a" textLength="81.90" lengthAdjust="spacingAndGlyphs" stroke="#2a2a2a" stroke-width="0.25" transform="rotate(-90 139.12 205.90)">Relative expression of</text>
<text x="147.92" y="206.50" font-size="8.0" text-anchor="middle" fill="#2a2a2a" textLength="68.20" lengthAdjust="spacingAndGlyphs" stroke="#2a2a2a" stroke-width="0.25" transform="rotate(-90 147.92 206.50)">NAMPT-AS (FPKM)</text>
<line x1="295.60" y1="180.40" x2="384.40" y2="180.40" stroke="#efefef" stroke-width="0.6"/>
<line x1="295.60" y1="201.00" x2="384.40" y2="201.00" stroke="#efefef" stroke-width="0.6"/>
<line x1="295.60" y1="222.10" x2="384.40" y2="222.10" stroke="#efefef" stroke-width="0.6"/>
<line x1="295.60" y1="243.00" x2="384.40" y2="243.00" stroke="#efefef" stroke-width="0.6"/>
<line x1="320.50" y1="164.60" x2="320.50" y2="246.60" stroke="#efefef" stroke-width="0.6"/>
<line x1="361.50" y1="164.60" x2="361.50" y2="246.60" stroke="#efefef" stroke-width="0.6"/>
<rect x="295.60" y="164.60" width="88.80" height="82.00" fill="none" stroke="#9a9a9a" stroke-width="0.9"/>
<line x1="294.10" y1="180.40" x2="295.60" y2="180.40" stroke="#555" stroke-width="0.6"/>
<text x="293.80" y="182.64" font-size="5.6" text-anchor="end" fill="#333" textLength="6.20" lengthAdjust="spacingAndGlyphs" stroke="#333" stroke-width="0.2">7.5</text>
<line x1="294.10" y1="201.00" x2="295.60" y2="201.00" stroke="#555" stroke-width="0.6"/>
<text x="293.80" y="203.24" font-size="5.6" text-anchor="end" fill="#333" textLength="6.20" lengthAdjust="spacingAndGlyphs" stroke="#333" stroke-width="0.2">5.0</text>
<line x1="294.10" y1="222.10" x2="295.60" y2="222.10" stroke="#555" stroke-width="0.6"/>
<text x="293.80" y="224.34" font-size="5.6" text-anchor="end" fill="#333" textLength="6.20" lengthAdjust="spacingAndGlyphs" stroke="#333" stroke-width="0.2">2.5</text>
<line x1="294.10" y1="243.00" x2="295.60" y2="243.00" stroke="#555" stroke-width="0.6"/>
<text x="293.80" y="245.24" font-size="5.6" text-anchor="end" fill="#333" textLength="6.20" lengthAdjust="spacingAndGlyphs" stroke="#333" stroke-width="0.2">0.0</text>
<text x="338.10" y="160.93" font-size="8.6" text-anchor="middle" fill="#222" textLength="36.25" lengthAdjust="spacingAndGlyphs" stroke="#222" stroke-width="0.25">GSE48213</text>
<path d="M309,243.2 C313,242 316,240 318,236 C319,231 319.5,228 320,226.5 C320.5,228 321,231 322,236 C324,240 328,242 334.7,243.2 Z" stroke="#9a9a9a" stroke-width="0.55" fill="none"/>
<line x1="310.00" y1="243.00" x2="334.00" y2="243.00" stroke="#999" stroke-width="0.9"/>
<circle cx="320.53" cy="236.50" r="0.7" fill="#dde" stroke="#999" stroke-width="0.35" fill-opacity="0.8"/>
<circle cx="320.55" cy="231.28" r="0.7" fill="#dde" stroke="#999" stroke-width="0.35" fill-opacity="0.8"/>
<circle cx="319.60" cy="233.54" r="0.7" fill="#dde" stroke="#999" stroke-width="0.35" fill-opacity="0.8"/>
<circle cx="319.30" cy="229.04" r="0.7" fill="#dde" stroke="#999" stroke-width="0.35" fill-opacity="0.8"/>
<circle cx="321.86" cy="230.09" r="0.7" fill="#dde" stroke="#999" stroke-width="0.35" fill-opacity="0.8"/>
<circle cx="316.61" cy="233.47" r="0.7" fill="#dde" stroke="#999" stroke-width="0.35" fill-opacity="0.8"/>
<circle cx="319.20" cy="230.99" r="0.7" fill="#dde" stroke="#999" stroke-width="0.35" fill-opacity="0.8"/>
<circle cx="317.76" cy="235.06" r="0.7" fill="#dde" stroke="#999" stroke-width="0.35" fill-opacity="0.8"/>
<circle cx="317.35" cy="234.31" r="0.7" fill="#dde" stroke="#999" stroke-width="0.35" fill-opacity="0.8"/>
<circle cx="321.42" cy="234.11" r="0.7" fill="#dde" stroke="#999" stroke-width="0.35" fill-opacity="0.8"/>
<rect x="321.50" y="232.40" width="10.10" height="4.50" fill="#fff" stroke="#888" stroke-width="0.45"/>
<text x="326.55" y="235.89" font-size="3.4" text-anchor="middle" fill="#111" textLength="7.47" lengthAdjust="spacingAndGlyphs" stroke="#111" stroke-width="0.15">0.401</text>
<circle cx="320.10" cy="240.80" r="2.2" fill="#f3d8d0" opacity="0.8"/>
<circle cx="320.10" cy="240.80" r="1.5" fill="#111" stroke="#300" stroke-width="0.3"/>
<line x1="361.50" y1="168.50" x2="361.50" y2="228.00" stroke="#8a6a6a" stroke-width="0.55"/>
<rect x="355.4" y="228.1" width="11.6" height="14.1" fill="none" stroke="#b5655a" stroke-width="0.55"/>
<line x1="355.40" y1="237.00" x2="367.00" y2="237.00" stroke="#b5655a" stroke-width="0.55"/>
<circle cx="364.54" cy="231.93" r="0.55" fill="none" stroke="#eea45a" stroke-width="0.45" opacity="0.9"/>
<circle cx="361.75" cy="244.48" r="0.55" fill="none" stroke="#eea45a" stroke-width="0.45" opacity="0.9"/>
<circle cx="360.33" cy="236.08" r="0.55" fill="none" stroke="#eea45a" stroke-width="0.45" opacity="0.9"/>
<circle cx="364.49" cy="236.10" r="0.55" fill="none" stroke="#eea45a" stroke-width="0.45" opacity="0.9"/>
<circle cx="358.58" cy="237.03" r="0.55" fill="none" stroke="#eea45a" stroke-width="0.45" opacity="0.9"/>
<circle cx="362.75" cy="238.84" r="0.55" fill="none" stroke="#eea45a" stroke-width="0.45" opacity="0.9"/>
<circle cx="358.68" cy="243.01" r="0.55" fill="none" stroke="#eea45a" stroke-width="0.45" opacity="0.9"/>
<circle cx="366.00" cy="236.07" r="0.55" fill="none" stroke="#eea45a" stroke-width="0.45" opacity="0.9"/>
<circle cx="358.6" cy="205.8" r="0.7" fill="none" stroke="#999" stroke-width="0.45"/><circle cx="358.6" cy="211.4" r="0.7" fill="none" stroke="#999" stroke-width="0.45"/><circle cx="361.5" cy="168.5" r="0.7" fill="none" stroke="#999" stroke-width="0.45"/>
<rect x="363.70" y="222.00" width="9.30" height="4.40" fill="#fff" stroke="#888" stroke-width="0.45"/>
<text x="368.35" y="225.44" font-size="3.4" text-anchor="middle" fill="#111" textLength="6.88" lengthAdjust="spacingAndGlyphs" stroke="#111" stroke-width="0.15">1.482</text>
<circle cx="361.50" cy="229.20" r="2.4" fill="#f3d8d0" opacity="0.8"/>
<circle cx="361.50" cy="229.20" r="1.7" fill="#7a0d15" stroke="#300" stroke-width="0.3"/>
<text x="316.25" y="256.21" font-size="8.8" text-anchor="middle" fill="#2a2a2a" textLength="37.50" lengthAdjust="spacingAndGlyphs" stroke="#2a2a2a" stroke-width="0.18">Non-TNBC</text>
<text x="364.10" y="256.21" font-size="8.8" text-anchor="middle" fill="#2a2a2a" textLength="19.50" lengthAdjust="spacingAndGlyphs" stroke="#2a2a2a" stroke-width="0.18">TNBC</text>
<text x="272.12" y="205.90" font-size="8.0" text-anchor="middle" fill="#2a2a2a" textLength="81.90" lengthAdjust="spacingAndGlyphs" stroke="#2a2a2a" stroke-width="0.25" transform="rotate(-90 272.12 205.90)">Relative expression of</text>
<text x="281.92" y="206.50" font-size="8.0" text-anchor="middle" fill="#2a2a2a" textLength="68.20" lengthAdjust="spacingAndGlyphs" stroke="#2a2a2a" stroke-width="0.25" transform="rotate(-90 281.92 206.50)">NAMPT-AS (RPKM)</text>
<line x1="433.20" y1="167.80" x2="515.60" y2="167.80" stroke="#efefef" stroke-width="0.6"/>
<line x1="433.20" y1="182.80" x2="515.60" y2="182.80" stroke="#efefef" stroke-width="0.6"/>
<line x1="433.20" y1="197.80" x2="515.60" y2="197.80" stroke="#efefef" stroke-width="0.6"/>
<line x1="433.20" y1="212.80" x2="515.60" y2="212.80" stroke="#efefef" stroke-width="0.6"/>
<line x1="433.20" y1="227.90" x2="515.60" y2="227.90" stroke="#efefef" stroke-width="0.6"/>
<line x1="433.20" y1="242.90" x2="515.60" y2="242.90" stroke="#efefef" stroke-width="0.6"/>
<line x1="457.40" y1="165.00" x2="457.40" y2="246.40" stroke="#efefef" stroke-width="0.6"/>
<line x1="496.00" y1="165.00" x2="496.00" y2="246.40" stroke="#efefef" stroke-width="0.6"/>
<rect x="433.20" y="165.00" width="82.40" height="81.40" fill="none" stroke="#9a9a9a" stroke-width="0.9"/>
<line x1="431.70" y1="167.80" x2="433.20" y2="167.80" stroke="#555" stroke-width="0.6"/>
<text x="431.40" y="169.97" font-size="5.4" text-anchor="end" fill="#333" textLength="11.20" lengthAdjust="spacingAndGlyphs" stroke="#333" stroke-width="0.2">0.125</text>
<line x1="431.70" y1="182.80" x2="433.20" y2="182.80" stroke="#555" stroke-width="0.6"/>
<text x="431.40" y="184.97" font-size="5.4" text-anchor="end" fill="#333" textLength="11.20" lengthAdjust="spacingAndGlyphs" stroke="#333" stroke-width="0.2">0.100</text>
<line x1="431.70" y1="197.80" x2="433.20" y2="197.80" stroke="#555" stroke-width="0.6"/>
<text x="431.40" y="199.97" font-size="5.4" text-anchor="end" fill="#333" textLength="11.20" lengthAdjust="spacingAndGlyphs" stroke="#333" stroke-width="0.2">0.075</text>
<line x1="431.70" y1="212.80" x2="433.20" y2="212.80" stroke="#555" stroke-width="0.6"/>
<text x="431.40" y="214.97" font-size="5.4" text-anchor="end" fill="#333" textLength="11.20" lengthAdjust="spacingAndGlyphs" stroke="#333" stroke-width="0.2">0.050</text>
<line x1="431.70" y1="227.90" x2="433.20" y2="227.90" stroke="#555" stroke-width="0.6"/>
<text x="431.40" y="230.07" font-size="5.4" text-anchor="end" fill="#333" textLength="11.20" lengthAdjust="spacingAndGlyphs" stroke="#333" stroke-width="0.2">0.025</text>
<line x1="431.70" y1="242.90" x2="433.20" y2="242.90" stroke="#555" stroke-width="0.6"/>
<text x="431.40" y="245.07" font-size="5.4" text-anchor="end" fill="#333" textLength="11.20" lengthAdjust="spacingAndGlyphs" stroke="#333" stroke-width="0.2">0.000</text>
<text x="474.60" y="161.13" font-size="8.6" text-anchor="middle" fill="#222" textLength="46.75" lengthAdjust="spacingAndGlyphs" stroke="#222" stroke-width="0.25">Qilu Hospital</text>
<circle cx="452.6" cy="195.5" r="0.8" fill="#d0e0d8" stroke="#8aa89a" stroke-width="0.45"/>
<circle cx="455.9" cy="209.3" r="0.8" fill="#d0e0d8" stroke="#8aa89a" stroke-width="0.45"/>
<circle cx="456.3" cy="211.3" r="0.8" fill="#d0e0d8" stroke="#8aa89a" stroke-width="0.45"/>
<circle cx="453.8" cy="218.9" r="0.8" fill="#d0e0d8" stroke="#8aa89a" stroke-width="0.45"/>
<circle cx="457.9" cy="217.8" r="0.8" fill="#d0e0d8" stroke="#8aa89a" stroke-width="0.45"/>
<circle cx="459.9" cy="223.9" r="0.8" fill="#d0e0d8" stroke="#8aa89a" stroke-width="0.45"/>
<circle cx="456.3" cy="225.6" r="0.8" fill="#d0e0d8" stroke="#8aa89a" stroke-width="0.45"/>
<circle cx="458.7" cy="228.4" r="0.8" fill="#d0e0d8" stroke="#8aa89a" stroke-width="0.45"/>
<circle cx="453.8" cy="231.7" r="0.8" fill="#d0e0d8" stroke="#8aa89a" stroke-width="0.45"/>
<line x1="447.10" y1="241.60" x2="466.40" y2="241.60" stroke="#9ab8b0" stroke-width="1.1"/>
<circle cx="462.47" cy="241.74" r="0.6" fill="#bfe0d0" stroke="#6fa090" stroke-width="0.35" fill-opacity="0.8"/>
<circle cx="462.12" cy="241.06" r="0.6" fill="#bfe0d0" stroke="#6fa090" stroke-width="0.35" fill-opacity="0.8"/>
<circle cx="454.71" cy="241.23" r="0.6" fill="#bfe0d0" stroke="#6fa090" stroke-width="0.35" fill-opacity="0.8"/>
<circle cx="454.55" cy="241.28" r="0.6" fill="#bfe0d0" stroke="#6fa090" stroke-width="0.35" fill-opacity="0.8"/>
<circle cx="453.50" cy="242.10" r="0.6" fill="#bfe0d0" stroke="#6fa090" stroke-width="0.35" fill-opacity="0.8"/>
<circle cx="452.99" cy="241.03" r="0.6" fill="#bfe0d0" stroke="#6fa090" stroke-width="0.35" fill-opacity="0.8"/>
<circle cx="456.65" cy="240.90" r="0.6" fill="#bfe0d0" stroke="#6fa090" stroke-width="0.35" fill-opacity="0.8"/>
<circle cx="454.73" cy="242.13" r="0.6" fill="#bfe0d0" stroke="#6fa090" stroke-width="0.35" fill-opacity="0.8"/>
<circle cx="461.88" cy="241.90" r="0.6" fill="#bfe0d0" stroke="#6fa090" stroke-width="0.35" fill-opacity="0.8"/>
<circle cx="458.33" cy="242.06" r="0.6" fill="#bfe0d0" stroke="#6fa090" stroke-width="0.35" fill-opacity="0.8"/>
<circle cx="462.67" cy="241.48" r="0.6" fill="#bfe0d0" stroke="#6fa090" stroke-width="0.35" fill-opacity="0.8"/>
<circle cx="459.75" cy="241.32" r="0.6" fill="#bfe0d0" stroke="#6fa090" stroke-width="0.35" fill-opacity="0.8"/>
<circle cx="460.04" cy="241.63" r="0.6" fill="#bfe0d0" stroke="#6fa090" stroke-width="0.35" fill-opacity="0.8"/>
<circle cx="453.51" cy="240.68" r="0.6" fill="#bfe0d0" stroke="#6fa090" stroke-width="0.35" fill-opacity="0.8"/>
<circle cx="456.11" cy="241.15" r="0.6" fill="#bfe0d0" stroke="#6fa090" stroke-width="0.35" fill-opacity="0.8"/>
<circle cx="453.67" cy="241.78" r="0.6" fill="#bfe0d0" stroke="#6fa090" stroke-width="0.35" fill-opacity="0.8"/>
<rect x="457.90" y="234.45" width="9.50" height="4.40" fill="#fff" stroke="#888" stroke-width="0.45"/>
<text x="462.65" y="237.89" font-size="3.4" text-anchor="middle" fill="#111" textLength="7.03" lengthAdjust="spacingAndGlyphs" stroke="#111" stroke-width="0.15">0.003</text>
<circle cx="456.30" cy="241.20" r="2.4" fill="#f3d8d0" opacity="0.8"/>
<circle cx="456.30" cy="241.20" r="1.7" fill="#7a0d15" stroke="#300" stroke-width="0.3"/>
<line x1="495.30" y1="167.50" x2="495.30" y2="221.00" stroke="#7a6a6a" stroke-width="0.55"/>
<rect x="489.8" y="221" width="11.4" height="16.5" fill="none" stroke="#907878" stroke-width="0.55"/>
<line x1="489.80" y1="235.70" x2="501.20" y2="235.70" stroke="#705858" stroke-width="0.7"/>
<line x1="495.30" y1="237.50" x2="495.30" y2="239.30" stroke="#907878" stroke-width="0.5"/>
<circle cx="499.3" cy="187.8" r="0.8" fill="#e0d0d0" stroke="#a89090" stroke-width="0.45"/>
<circle cx="497.9" cy="197.9" r="0.8" fill="#e0d0d0" stroke="#a89090" stroke-width="0.45"/>
<circle cx="493.9" cy="202" r="0.8" fill="#e0d0d0" stroke="#a89090" stroke-width="0.45"/>
<circle cx="496.5" cy="208.1" r="0.8" fill="#e0d0d0" stroke="#a89090" stroke-width="0.45"/>
<circle cx="495.3" cy="180.2" r="0.8" fill="#e0d0d0" stroke="#a89090" stroke-width="0.45"/>
<circle cx="497" cy="230" r="0.8" fill="#e0d0d0" stroke="#a89090" stroke-width="0.45"/>
<circle cx="495.5" cy="239.3" r="0.8" fill="#e0d0d0" stroke="#a89090" stroke-width="0.45"/>
<rect x="496.50" y="216.65" width="10.20" height="4.40" fill="#fff" stroke="#888" stroke-width="0.45"/>
<text x="501.60" y="220.09" font-size="3.4" text-anchor="middle" fill="#111" textLength="7.55" lengthAdjust="spacingAndGlyphs" stroke="#111" stroke-width="0.15">0.031</text>
<circle cx="495.30" cy="223.90" r="2.4" fill="#f3d8d0" opacity="0.8"/>
<circle cx="495.30" cy="223.90" r="1.7" fill="#7a0d15" stroke="#300" stroke-width="0.3"/>
<text x="457.90" y="256.13" font-size="8.6" text-anchor="middle" fill="#2a2a2a" textLength="13.20" lengthAdjust="spacingAndGlyphs" stroke="#2a2a2a" stroke-width="0.18">HR<tspan dy="-3.2" font-size="4.6">+</tspan></text>
<text x="498.50" y="256.13" font-size="8.6" text-anchor="middle" fill="#2a2a2a" textLength="12.00" lengthAdjust="spacingAndGlyphs" stroke="#2a2a2a" stroke-width="0.18">HR<tspan dy="-3.2" font-size="4.6">−</tspan></text>
<text x="399.82" y="206.80" font-size="8.0" text-anchor="middle" fill="#2a2a2a" textLength="80.20" lengthAdjust="spacingAndGlyphs" stroke="#2a2a2a" stroke-width="0.25" transform="rotate(-90 399.82 206.80)">Relative expression of</text>
<text x="408.92" y="207.90" font-size="8.0" text-anchor="middle" fill="#2a2a2a" textLength="62.50" lengthAdjust="spacingAndGlyphs" stroke="#2a2a2a" stroke-width="0.25" transform="rotate(-90 408.92 207.90)">NAMPT-AS (2<tspan baseline-shift="super" font-size="5">-ΔC</tspan><tspan baseline-shift="super" font-size="3.5">t</tspan>)</text>
<line x1="282.00" y1="305.10" x2="373.30" y2="305.10" stroke="#efefef" stroke-width="0.6"/>
<line x1="282.00" y1="320.90" x2="373.30" y2="320.90" stroke="#efefef" stroke-width="0.6"/>
<line x1="282.00" y1="335.80" x2="373.30" y2="335.80" stroke="#efefef" stroke-width="0.6"/>
<line x1="282.00" y1="352.40" x2="373.30" y2="352.40" stroke="#efefef" stroke-width="0.6"/>
<line x1="282.00" y1="368.20" x2="373.30" y2="368.20" stroke="#efefef" stroke-width="0.6"/>
<line x1="307.10" y1="289.60" x2="307.10" y2="372.00" stroke="#efefef" stroke-width="0.6"/>
<line x1="348.40" y1="289.60" x2="348.40" y2="372.00" stroke="#efefef" stroke-width="0.6"/>
<rect x="282.00" y="289.60" width="91.30" height="82.40" fill="none" stroke="#9a9a9a" stroke-width="0.9"/>
<line x1="280.50" y1="305.10" x2="282.00" y2="305.10" stroke="#555" stroke-width="0.6"/>
<text x="280.20" y="307.34" font-size="5.6" text-anchor="end" fill="#333" textLength="6.20" lengthAdjust="spacingAndGlyphs" stroke="#333" stroke-width="0.2">2.0</text>
<line x1="280.50" y1="320.90" x2="282.00" y2="320.90" stroke="#555" stroke-width="0.6"/>
<text x="280.20" y="323.14" font-size="5.6" text-anchor="end" fill="#333" textLength="6.20" lengthAdjust="spacingAndGlyphs" stroke="#333" stroke-width="0.2">1.5</text>
<line x1="280.50" y1="335.80" x2="282.00" y2="335.80" stroke="#555" stroke-width="0.6"/>
<text x="280.20" y="338.04" font-size="5.6" text-anchor="end" fill="#333" textLength="6.20" lengthAdjust="spacingAndGlyphs" stroke="#333" stroke-width="0.2">1.0</text>
<line x1="280.50" y1="352.40" x2="282.00" y2="352.40" stroke="#555" stroke-width="0.6"/>
<text x="280.20" y="354.64" font-size="5.6" text-anchor="end" fill="#333" textLength="6.20" lengthAdjust="spacingAndGlyphs" stroke="#333" stroke-width="0.2">0.5</text>
<line x1="280.50" y1="368.20" x2="282.00" y2="368.20" stroke="#555" stroke-width="0.6"/>
<text x="280.20" y="370.44" font-size="5.6" text-anchor="end" fill="#333" textLength="6.20" lengthAdjust="spacingAndGlyphs" stroke="#333" stroke-width="0.2">0.0</text>
<path d="M307.1,320.5 C306.2,322 306.3,328 306,331.3 C305,336 304,339 303.4,342.1 C302,346 300.5,348.5 299.7,350.8 C298,356 297.6,362 297.6,369.2 L317,369.2 C317,362 316.5,356 315.3,350.8 C314,348 312.5,345 311,342.1 C310,339 309,336 308.2,331.3 C307.9,328 308,322 307.1,320.5 Z" stroke="#a0a0a0" stroke-width="0.6" fill="none"/>
<rect x="299" y="351.9" width="16.3" height="17.3" fill="none" stroke="#c8a8a8" stroke-width="0.5"/>
<line x1="299.00" y1="358.30" x2="315.30" y2="358.30" stroke="#c8a8a8" stroke-width="0.5"/>
<circle cx="308.30" cy="362.65" r="0.5" fill="none" stroke="#6ab" stroke-width="0.45" opacity="0.9"/>
<circle cx="304.59" cy="360.89" r="0.5" fill="none" stroke="#6ab" stroke-width="0.45" opacity="0.9"/>
<circle cx="303.19" cy="361.94" r="0.5" fill="none" stroke="#6ab" stroke-width="0.45" opacity="0.9"/>
<circle cx="306.88" cy="364.55" r="0.5" fill="none" stroke="#6ab" stroke-width="0.45" opacity="0.9"/>
<circle cx="307.71" cy="369.30" r="0.5" fill="none" stroke="#6ab" stroke-width="0.45" opacity="0.9"/>
<circle cx="303.89" cy="363.04" r="0.5" fill="none" stroke="#6ab" stroke-width="0.45" opacity="0.9"/>
<circle cx="314.38" cy="357.40" r="0.5" fill="none" stroke="#6ab" stroke-width="0.45" opacity="0.9"/>
<circle cx="304.44" cy="363.51" r="0.5" fill="none" stroke="#6ab" stroke-width="0.45" opacity="0.9"/>
<rect x="308.40" y="349.45" width="9.10" height="4.40" fill="#fff" stroke="#888" stroke-width="0.45"/>
<text x="312.95" y="352.89" font-size="3.4" text-anchor="middle" fill="#111" textLength="6.73" lengthAdjust="spacingAndGlyphs" stroke="#111" stroke-width="0.15">0.377</text>
<circle cx="307.10" cy="357.30" r="2.0999999999999996" fill="#f3d8d0" opacity="0.8"/>
<circle cx="307.10" cy="357.30" r="1.4" fill="#111" stroke="#300" stroke-width="0.3"/>
<path d="M348.4,293.4 C347.6,300 346.8,310 346.5,316.1 C346,320 345.8,323 345.6,325.9 C344.5,328 343.6,330 343.4,331.3 L343.4,369.8 L354.9,369.8 L354.2,331.3 C353.8,330 353,328 352.7,325.9 C352,323 351,320 350.5,316.1 C350,310 349,300 348.4,293.4 Z" stroke="#a0a0a0" stroke-width="0.6" fill="none"/>
<rect x="343.4" y="331.3" width="11.1" height="38.5" fill="none" stroke="#c0a090" stroke-width="0.5"/>
<line x1="343.40" y1="350.30" x2="354.50" y2="350.30" stroke="#a08070" stroke-width="0.5"/>
<circle cx="349.46" cy="355.67" r="0.55" fill="none" stroke="#e0a070" stroke-width="0.45" opacity="0.9"/>
<circle cx="348.28" cy="355.30" r="0.55" fill="none" stroke="#e0a070" stroke-width="0.45" opacity="0.9"/>
<circle cx="349.16" cy="358.94" r="0.55" fill="none" stroke="#e0a070" stroke-width="0.45" opacity="0.9"/>
<circle cx="343.32" cy="344.03" r="0.55" fill="none" stroke="#e0a070" stroke-width="0.45" opacity="0.9"/>
<circle cx="348.99" cy="342.71" r="0.55" fill="none" stroke="#e0a070" stroke-width="0.45" opacity="0.9"/>
<circle cx="345.87" cy="357.65" r="0.55" fill="none" stroke="#e0a070" stroke-width="0.45" opacity="0.9"/>
<circle cx="347.05" cy="357.71" r="0.55" fill="none" stroke="#e0a070" stroke-width="0.45" opacity="0.9"/>
<circle cx="351.24" cy="354.76" r="0.55" fill="none" stroke="#e0a070" stroke-width="0.45" opacity="0.9"/>
<circle cx="350.52" cy="351.06" r="0.55" fill="none" stroke="#e0a070" stroke-width="0.45" opacity="0.9"/>
<circle cx="344.77" cy="351.73" r="0.55" fill="none" stroke="#e0a070" stroke-width="0.45" opacity="0.9"/>
<circle cx="350.36" cy="347.24" r="0.55" fill="none" stroke="#e0a070" stroke-width="0.45" opacity="0.9"/>
<circle cx="348.70" cy="358.74" r="0.55" fill="none" stroke="#e0a070" stroke-width="0.45" opacity="0.9"/>
<circle cx="346.37" cy="357.76" r="0.55" fill="none" stroke="#e0a070" stroke-width="0.45" opacity="0.9"/>
<circle cx="354.59" cy="347.01" r="0.55" fill="none" stroke="#e0a070" stroke-width="0.45" opacity="0.9"/>
<circle cx="349.44" cy="350.65" r="0.55" fill="none" stroke="#e0a070" stroke-width="0.45" opacity="0.9"/>
<circle cx="353.62" cy="354.85" r="0.55" fill="none" stroke="#e0a070" stroke-width="0.45" opacity="0.9"/>
<circle cx="351.69" cy="345.79" r="0.55" fill="none" stroke="#e0a070" stroke-width="0.45" opacity="0.9"/>
<circle cx="348.95" cy="351.91" r="0.55" fill="none" stroke="#e0a070" stroke-width="0.45" opacity="0.9"/>
<circle cx="343.67" cy="364.97" r="0.55" fill="none" stroke="#e0a070" stroke-width="0.45" opacity="0.9"/>
<circle cx="351.70" cy="336.26" r="0.55" fill="none" stroke="#e0a070" stroke-width="0.45" opacity="0.9"/>
<circle cx="351.23" cy="350.82" r="0.55" fill="none" stroke="#e0a070" stroke-width="0.45" opacity="0.9"/>
<circle cx="350.35" cy="355.30" r="0.55" fill="none" stroke="#e0a070" stroke-width="0.45" opacity="0.9"/>
<circle cx="344.50" cy="350.09" r="0.55" fill="none" stroke="#e0a070" stroke-width="0.45" opacity="0.9"/>
<circle cx="353.48" cy="346.83" r="0.55" fill="none" stroke="#e0a070" stroke-width="0.45" opacity="0.9"/>
<circle cx="345.93" cy="339.76" r="0.55" fill="none" stroke="#e0a070" stroke-width="0.45" opacity="0.9"/>
<circle cx="345.34" cy="355.02" r="0.55" fill="none" stroke="#e0a070" stroke-width="0.45" opacity="0.9"/>
<circle cx="350.43" cy="315.86" r="0.5" fill="none" stroke="#caa" stroke-width="0.45" opacity="0.9"/>
<circle cx="348.69" cy="332.10" r="0.5" fill="none" stroke="#caa" stroke-width="0.45" opacity="0.9"/>
<circle cx="347.78" cy="305.93" r="0.5" fill="none" stroke="#caa" stroke-width="0.45" opacity="0.9"/>
<circle cx="349.03" cy="316.94" r="0.5" fill="none" stroke="#caa" stroke-width="0.45" opacity="0.9"/>
<circle cx="347.18" cy="301.47" r="0.5" fill="none" stroke="#caa" stroke-width="0.45" opacity="0.9"/>
<rect x="351.60" y="338.10" width="7.60" height="4.40" fill="#fff" stroke="#888" stroke-width="0.45"/>
<text x="355.40" y="341.54" font-size="3.4" text-anchor="middle" fill="#111" textLength="5.62" lengthAdjust="spacingAndGlyphs" stroke="#111" stroke-width="0.15">0.676</text>
<circle cx="348.40" cy="346.90" r="2.4" fill="#f3d8d0" opacity="0.8"/>
<circle cx="348.40" cy="346.90" r="1.7" fill="#7a0d15" stroke="#300" stroke-width="0.3"/>
<text x="306.70" y="384.71" font-size="8.8" text-anchor="middle" fill="#2a2a2a" textLength="27.30" lengthAdjust="spacingAndGlyphs" stroke="#2a2a2a" stroke-width="0.18">Normal</text>
<text x="348.60" y="384.71" font-size="8.8" text-anchor="middle" fill="#2a2a2a" textLength="19.80" lengthAdjust="spacingAndGlyphs" stroke="#2a2a2a" stroke-width="0.18">TNBC</text>
<text x="322.90" y="395.51" font-size="8.8" text-anchor="middle" fill="#2a2a2a" textLength="36.60" lengthAdjust="spacingAndGlyphs" stroke="#2a2a2a" stroke-width="0.18">GSE58135</text>
<text x="257.82" y="335.20" font-size="8.0" text-anchor="middle" fill="#2a2a2a" textLength="81.50" lengthAdjust="spacingAndGlyphs" stroke="#2a2a2a" stroke-width="0.25" transform="rotate(-90 257.82 335.20)">Relative expression of</text>
<text x="266.02" y="333.50" font-size="8.0" text-anchor="middle" fill="#2a2a2a" textLength="68.50" lengthAdjust="spacingAndGlyphs" stroke="#2a2a2a" stroke-width="0.25" transform="rotate(-90 266.02 333.50)">NAMPT-AS (FPKM)</text>
<line x1="416.20" y1="306.40" x2="416.20" y2="370.70" stroke="#333" stroke-width="1.1"/>
<line x1="415.70" y1="370.20" x2="508.20" y2="370.20" stroke="#333" stroke-width="1.1"/>
<line x1="413.90" y1="307.00" x2="416.20" y2="307.00" stroke="#333" stroke-width="0.9"/>
<text x="413.60" y="309.26" font-size="6.2" text-anchor="end" fill="#333" stroke="#333" stroke-width="0.18">6</text>
<line x1="413.90" y1="328.00" x2="416.20" y2="328.00" stroke="#333" stroke-width="0.9"/>
<text x="413.60" y="330.26" font-size="6.2" text-anchor="end" fill="#333" stroke="#333" stroke-width="0.18">4</text>
<line x1="413.90" y1="349.30" x2="416.20" y2="349.30" stroke="#333" stroke-width="0.9"/>
<text x="413.60" y="351.56" font-size="6.2" text-anchor="end" fill="#333" stroke="#333" stroke-width="0.18">2</text>
<line x1="413.90" y1="370.40" x2="416.20" y2="370.40" stroke="#333" stroke-width="0.9"/>
<text x="413.60" y="372.66" font-size="6.2" text-anchor="end" fill="#333" stroke="#333" stroke-width="0.18">0</text>
<rect x="422.2" y="359.6" width="12.00" height="10.60" fill="#2f5f99" stroke="#2a2520" stroke-width="1.1"/>
<line x1="428.20" y1="370.20" x2="428.20" y2="372.00" stroke="#333" stroke-width="0.8"/>
<rect x="440.1" y="357.3" width="12.00" height="12.90" fill="#f26b1d" stroke="#2a2520" stroke-width="1.1"/>
<line x1="446.10" y1="370.20" x2="446.10" y2="372.00" stroke="#333" stroke-width="0.8"/>
<line x1="446.10" y1="355.00" x2="446.10" y2="357.30" stroke="#333" stroke-width="0.9"/>
<line x1="443.30" y1="355.00" x2="448.90" y2="355.00" stroke="#333" stroke-width="0.9"/>
<rect x="457.6" y="348.4" width="12.00" height="21.80" fill="#a0a0ac" stroke="#2a2520" stroke-width="1.1"/>
<line x1="463.60" y1="370.20" x2="463.60" y2="372.00" stroke="#333" stroke-width="0.8"/>
<rect x="475.5" y="343.3" width="12.10" height="26.90" fill="#f5dc58" stroke="#2a2520" stroke-width="1.1"/>
<line x1="481.55" y1="370.20" x2="481.55" y2="372.00" stroke="#333" stroke-width="0.8"/>
<line x1="481.55" y1="336.70" x2="481.55" y2="343.30" stroke="#333" stroke-width="0.9"/>
<line x1="478.75" y1="336.70" x2="484.35" y2="336.70" stroke="#333" stroke-width="0.9"/>
<rect x="493.3" y="319.5" width="12.00" height="50.70" fill="#c41445" stroke="#2a2520" stroke-width="1.1"/>
<line x1="499.30" y1="370.20" x2="499.30" y2="372.00" stroke="#333" stroke-width="0.8"/>
<line x1="499.30" y1="316.80" x2="499.30" y2="319.50" stroke="#333" stroke-width="0.9"/>
<line x1="496.50" y1="316.80" x2="502.10" y2="316.80" stroke="#333" stroke-width="0.9"/>
<line x1="441.70" y1="344.40" x2="465.50" y2="344.40" stroke="#444" stroke-width="1.1"/>
<text x="452.00" y="340.49" font-size="8.2" text-anchor="middle" fill="#2a2a2a" textLength="13.50" lengthAdjust="spacingAndGlyphs" stroke="#2a2a2a" stroke-width="0.18">HR<tspan dy="-3.0" font-size="4.6">+</tspan></text>
<line x1="479.40" y1="312.80" x2="503.20" y2="312.80" stroke="#333" stroke-width="1.1"/>
<text x="491.00" y="308.89" font-size="8.2" text-anchor="middle" fill="#2a2a2a" textLength="20.00" lengthAdjust="spacingAndGlyphs" stroke="#2a2a2a" stroke-width="0.18">TNBC</text>
<text x="430.00" y="377.20" font-size="7" text-anchor="end" fill="#222" stroke="#222" stroke-width="0.15" textLength="24.5" lengthAdjust="spacingAndGlyphs" transform="rotate(-45 430.00 377.20)">MCF10A</text>
<text x="447.80" y="377.20" font-size="7" text-anchor="end" fill="#222" stroke="#222" stroke-width="0.15" textLength="10.8" lengthAdjust="spacingAndGlyphs" transform="rotate(-45 447.80 377.20)">M7</text>
<text x="465.60" y="377.20" font-size="7" text-anchor="end" fill="#222" stroke="#222" stroke-width="0.15" textLength="19" lengthAdjust="spacingAndGlyphs" transform="rotate(-45 465.60 377.20)">SKBR3</text>
<text x="483.40" y="377.20" font-size="7" text-anchor="end" fill="#222" stroke="#222" stroke-width="0.15" textLength="12.8" lengthAdjust="spacingAndGlyphs" transform="rotate(-45 483.40 377.20)">468</text>
<text x="501.30" y="377.20" font-size="7" text-anchor="end" fill="#222" stroke="#222" stroke-width="0.15" textLength="12.8" lengthAdjust="spacingAndGlyphs" transform="rotate(-45 501.30 377.20)">231</text>
<text x="397.12" y="333.50" font-size="8.0" text-anchor="middle" fill="#2a2a2a" textLength="70.30" lengthAdjust="spacingAndGlyphs" stroke="#2a2a2a" stroke-width="0.25" transform="rotate(-90 397.12 333.50)">Relative expression of</text>
<text x="406.52" y="337.20" font-size="8.0" text-anchor="middle" fill="#2a2a2a" textLength="37.30" lengthAdjust="spacingAndGlyphs" stroke="#2a2a2a" stroke-width="0.25" transform="rotate(-90 406.52 337.20)">NAMPT-AS</text>
</svg></body></html>
